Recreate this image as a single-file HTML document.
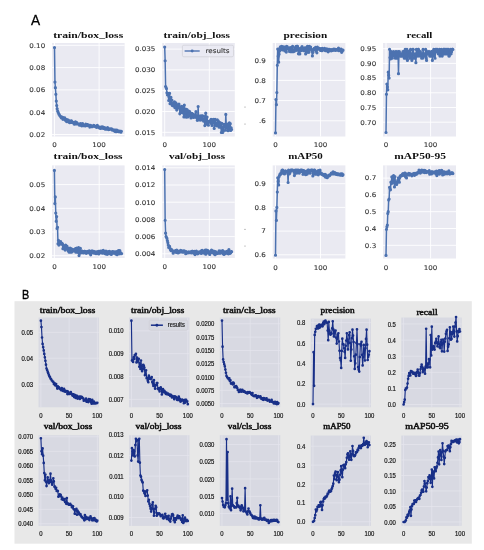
<!DOCTYPE html>
<html lang="en"><head><meta charset="utf-8"><title>Training results</title>
<style>
html,body{margin:0;padding:0;background:#fff;}
body{width:484px;height:550px;overflow:hidden;}
svg{display:block;}
text{font-kerning:normal;}
</style></head><body>
<svg width="484" height="550" viewBox="0 0 484 550">
<rect x="0" y="0" width="484" height="550" fill="#ffffff"/>
<rect x="14.5" y="301.2" width="457.3" height="242.5" fill="#e8e8e8"/>
<text transform="translate(31 25.1) scale(0.9 1)" font-family="'Liberation Sans',sans-serif" font-size="15.2" fill="#000" stroke="#000" stroke-width="0.3">A</text>
<text transform="translate(21.9 299.3) scale(0.8 1)" font-family="'Liberation Sans',sans-serif" font-size="13.6" fill="#000" stroke="#000" stroke-width="0.35">B</text>

<g>
<rect x="52" y="43" width="72.6" height="93.5" fill="#eaeaf2"/>
<path d="M54.5 43V136.5M99.1 43V136.5M52 45.3H124.6M52 67.6H124.6M52 89.9H124.6M52 112.2H124.6M52 134.5H124.6" stroke="#ffffff" stroke-width="0.9" fill="none"/>
<polyline points="54.5,47.53 54.95,82.09 55.39,87.67 55.84,94.36 56.28,101.05 56.73,105.51 57.18,108.86 57.62,111.08 58.07,112.2 58.51,113.31 58.96,114.13 59.41,114.95 59.85,115.77 60.3,116.31 60.74,116.66 61.19,117.83 61.64,116.85 62.08,117.5 62.53,117.76 62.97,119.33 63.42,117.56 63.87,118.76 64.31,119.31 64.76,117.89 65.2,119.47 65.65,120.6 66.1,120.1 66.54,121.55 66.99,119.51 67.43,120.69 67.88,121.1 68.33,120.08 68.77,122.09 69.22,120.82 69.66,122.75 70.11,122.01 70.56,122.52 71,120.89 71.45,120.83 71.89,122.38 72.34,121.75 72.79,122.58 73.23,122.23 73.68,123.26 74.12,124.05 74.57,124.26 75.02,122.95 75.46,121.85 75.91,123.32 76.35,124 76.8,122.52 77.25,123.71 77.69,123.87 78.14,123.84 78.58,124.17 79.03,124.36 79.48,125.18 79.92,123.96 80.37,124.43 80.81,123.64 81.26,124.76 81.71,125.86 82.15,124.72 82.6,123.59 83.04,125.05 83.49,125.46 83.94,125.74 84.38,125.71 84.83,125.28 85.27,125.94 85.72,124.22 86.17,125.48 86.61,125.29 87.06,124.48 87.5,124.5 87.95,125.72 88.4,125.42 88.84,125.22 89.29,125.91 89.73,127.04 90.18,125.48 90.63,125.38 91.07,125.77 91.52,126.73 91.96,126.31 92.41,126.64 92.86,126.52 93.3,125.52 93.75,125.43 94.19,126.07 94.64,126.22 95.09,126.2 95.53,126.73 95.98,126.83 96.42,127.3 96.87,126.96 97.32,125.47 97.76,126.47 98.21,127.35 98.65,127.5 99.1,127.83 99.55,127.09 99.99,127.16 100.44,128.47 100.88,127.27 101.33,128.06 101.78,126.81 102.22,127.74 102.67,126.78 103.11,128.32 103.56,128.29 104.01,127.98 104.45,127.56 104.9,127.98 105.34,129.26 105.79,128.4 106.24,128.59 106.68,128.98 107.13,129.21 107.57,127.69 108.02,129.21 108.47,129.6 108.91,128.69 109.36,129.11 109.8,129.34 110.25,128.85 110.7,129.12 111.14,129.28 111.59,128.95 112.03,129.48 112.48,130.16 112.93,130.07 113.37,130.25 113.82,129.84 114.26,130.77 114.71,131.36 115.16,130.15 115.6,131.17 116.05,131.66 116.49,130.18 116.94,130.98 117.39,130.25 117.83,131.02 118.28,131.49 118.72,131.64 119.17,131.23 119.62,131.15 120.06,131.59 120.51,131.3 120.95,132.22 121.4,131.26" fill="none" stroke="#4c72b0" stroke-width="1.5" stroke-linejoin="round" stroke-linecap="round"/>
<path d="M54.5 47.53h0M54.95 82.09h0M55.39 87.67h0M55.84 94.36h0M56.28 101.05h0M56.73 105.51h0M57.18 108.86h0M57.62 111.08h0M58.07 112.2h0M58.51 113.31h0M58.96 114.13h0M59.41 114.95h0M59.85 115.77h0M60.3 116.31h0M60.74 116.66h0M61.19 117.83h0M61.64 116.85h0M62.08 117.5h0M62.53 117.76h0M62.97 119.33h0M63.42 117.56h0M63.87 118.76h0M64.31 119.31h0M64.76 117.89h0M65.2 119.47h0M65.65 120.6h0M66.1 120.1h0M66.54 121.55h0M66.99 119.51h0M67.43 120.69h0M67.88 121.1h0M68.33 120.08h0M68.77 122.09h0M69.22 120.82h0M69.66 122.75h0M70.11 122.01h0M70.56 122.52h0M71 120.89h0M71.45 120.83h0M71.89 122.38h0M72.34 121.75h0M72.79 122.58h0M73.23 122.23h0M73.68 123.26h0M74.12 124.05h0M74.57 124.26h0M75.02 122.95h0M75.46 121.85h0M75.91 123.32h0M76.35 124h0M76.8 122.52h0M77.25 123.71h0M77.69 123.87h0M78.14 123.84h0M78.58 124.17h0M79.03 124.36h0M79.48 125.18h0M79.92 123.96h0M80.37 124.43h0M80.81 123.64h0M81.26 124.76h0M81.71 125.86h0M82.15 124.72h0M82.6 123.59h0M83.04 125.05h0M83.49 125.46h0M83.94 125.74h0M84.38 125.71h0M84.83 125.28h0M85.27 125.94h0M85.72 124.22h0M86.17 125.48h0M86.61 125.29h0M87.06 124.48h0M87.5 124.5h0M87.95 125.72h0M88.4 125.42h0M88.84 125.22h0M89.29 125.91h0M89.73 127.04h0M90.18 125.48h0M90.63 125.38h0M91.07 125.77h0M91.52 126.73h0M91.96 126.31h0M92.41 126.64h0M92.86 126.52h0M93.3 125.52h0M93.75 125.43h0M94.19 126.07h0M94.64 126.22h0M95.09 126.2h0M95.53 126.73h0M95.98 126.83h0M96.42 127.3h0M96.87 126.96h0M97.32 125.47h0M97.76 126.47h0M98.21 127.35h0M98.65 127.5h0M99.1 127.83h0M99.55 127.09h0M99.99 127.16h0M100.44 128.47h0M100.88 127.27h0M101.33 128.06h0M101.78 126.81h0M102.22 127.74h0M102.67 126.78h0M103.11 128.32h0M103.56 128.29h0M104.01 127.98h0M104.45 127.56h0M104.9 127.98h0M105.34 129.26h0M105.79 128.4h0M106.24 128.59h0M106.68 128.98h0M107.13 129.21h0M107.57 127.69h0M108.02 129.21h0M108.47 129.6h0M108.91 128.69h0M109.36 129.11h0M109.8 129.34h0M110.25 128.85h0M110.7 129.12h0M111.14 129.28h0M111.59 128.95h0M112.03 129.48h0M112.48 130.16h0M112.93 130.07h0M113.37 130.25h0M113.82 129.84h0M114.26 130.77h0M114.71 131.36h0M115.16 130.15h0M115.6 131.17h0M116.05 131.66h0M116.49 130.18h0M116.94 130.98h0M117.39 130.25h0M117.83 131.02h0M118.28 131.49h0M118.72 131.64h0M119.17 131.23h0M119.62 131.15h0M120.06 131.59h0M120.51 131.3h0M120.95 132.22h0M121.4 131.26h0" stroke="#4c72b0" stroke-width="3.2" stroke-linecap="round" fill="none"/>
<g font-family='"DejaVu Sans","Liberation Sans",sans-serif' font-size="6.5" fill="#333333" stroke="#333333" stroke-width="0.1">
<text transform="translate(54.5 147.3) scale(1.1 1)" text-anchor="middle">0</text>
<text transform="translate(99.1 147.3) scale(1.1 1)" text-anchor="middle">100</text>
<text transform="translate(45.2 47.64) scale(1.1 1)" text-anchor="end">0.10</text>
<text transform="translate(45.2 69.94) scale(1.1 1)" text-anchor="end">0.08</text>
<text transform="translate(45.2 92.24) scale(1.1 1)" text-anchor="end">0.06</text>
<text transform="translate(45.2 114.54) scale(1.1 1)" text-anchor="end">0.04</text>
<text transform="translate(45.2 136.84) scale(1.1 1)" text-anchor="end">0.02</text>
</g>
<text x="88.2" y="38" text-anchor="middle" font-family='"Liberation Serif","DejaVu Serif",serif' font-weight="bold" stroke="#111" stroke-width="0" font-size="7.7" fill="#111" textLength="70" lengthAdjust="spacingAndGlyphs">train/box_loss</text>
</g>
<g>
<rect x="162.2" y="43" width="72.6" height="93.5" fill="#eaeaf2"/>
<path d="M164.7 43V136.5M209.3 43V136.5M162.2 49.1H234.8M162.2 69.9H234.8M162.2 90.7H234.8M162.2 111.5H234.8M162.2 132.3H234.8" stroke="#ffffff" stroke-width="0.9" fill="none"/>
<polyline points="164.7,47.02 165.15,60.75 165.59,86.54 166.04,87.58 166.48,88.62 166.93,92.78 167.38,94.86 167.82,93.43 168.27,94.5 168.71,100.48 169.16,96.99 169.61,93.35 170.05,103.71 170.5,98.55 170.94,97.28 171.39,103.13 171.84,99.98 172.28,105.38 172.73,105.21 173.17,105.81 173.62,103.45 174.07,104.59 174.51,101.86 174.96,107.69 175.4,105.64 175.85,102.77 176.3,104.25 176.74,110.05 177.19,104.57 177.63,108.21 178.08,106.01 178.53,106.57 178.97,104.21 179.42,107.73 179.86,113.78 180.31,112.68 180.76,106.87 181.2,110.07 181.65,106.31 182.09,109.14 182.54,112.43 182.99,107.33 183.43,113.06 183.88,116.92 184.32,105.16 184.77,116.96 185.22,109.77 185.66,109.12 186.11,111.65 186.55,117.21 187,109.58 187.45,116.97 187.89,116.91 188.34,114.28 188.78,111.16 189.23,112.81 189.68,111.55 190.12,115.43 190.57,114.87 191.01,117.91 191.46,115.75 191.91,113.29 192.35,116.08 192.8,114.01 193.24,117.25 193.69,117.49 194.14,115.84 194.58,116.71 195.03,114.6 195.47,115.99 195.92,111.63 196.37,117.53 196.81,117.74 197.26,120.29 197.7,117.38 198.15,106.51 198.6,119.98 199.04,118.16 199.49,116.11 199.93,118.75 200.38,120.08 200.83,115.88 201.27,118.58 201.72,117.85 202.16,115.74 202.61,115.96 203.06,120.46 203.5,121.12 203.95,118.91 204.39,120.27 204.84,125.56 205.29,116.46 205.73,113.16 206.18,118.32 206.62,124.03 207.07,117 207.52,122.61 207.96,121.36 208.41,125.27 208.85,121.82 209.3,122.15 209.75,122.19 210.19,120.54 210.64,121.81 211.08,119.31 211.53,123.68 211.98,125.38 212.42,122.7 212.87,120.99 213.31,119.36 213.76,120.78 214.21,128.46 214.65,122.38 215.1,119.39 215.54,123.63 215.99,125.48 216.44,123.25 216.88,125.78 217.33,119.82 217.77,124.68 218.22,120.76 218.67,123.5 219.11,127.2 219.56,123.47 220,122.64 220.45,127.16 220.9,126.88 221.34,132.5 221.79,123.29 222.23,127.77 222.68,132.38 223.13,131.49 223.57,127.13 224.02,124.4 224.46,127.01 224.91,125.52 225.36,130.24 225.8,114.41 226.25,124.73 226.69,126.01 227.14,127.67 227.59,123.99 228.03,130.63 228.48,129.23 228.92,125.15 229.37,122.93 229.82,128.39 230.26,123.67 230.71,130.45 231.15,127.87 231.6,129.48" fill="none" stroke="#4c72b0" stroke-width="1.5" stroke-linejoin="round" stroke-linecap="round"/>
<path d="M164.7 47.02h0M165.15 60.75h0M165.59 86.54h0M166.04 87.58h0M166.48 88.62h0M166.93 92.78h0M167.38 94.86h0M167.82 93.43h0M168.27 94.5h0M168.71 100.48h0M169.16 96.99h0M169.61 93.35h0M170.05 103.71h0M170.5 98.55h0M170.94 97.28h0M171.39 103.13h0M171.84 99.98h0M172.28 105.38h0M172.73 105.21h0M173.17 105.81h0M173.62 103.45h0M174.07 104.59h0M174.51 101.86h0M174.96 107.69h0M175.4 105.64h0M175.85 102.77h0M176.3 104.25h0M176.74 110.05h0M177.19 104.57h0M177.63 108.21h0M178.08 106.01h0M178.53 106.57h0M178.97 104.21h0M179.42 107.73h0M179.86 113.78h0M180.31 112.68h0M180.76 106.87h0M181.2 110.07h0M181.65 106.31h0M182.09 109.14h0M182.54 112.43h0M182.99 107.33h0M183.43 113.06h0M183.88 116.92h0M184.32 105.16h0M184.77 116.96h0M185.22 109.77h0M185.66 109.12h0M186.11 111.65h0M186.55 117.21h0M187 109.58h0M187.45 116.97h0M187.89 116.91h0M188.34 114.28h0M188.78 111.16h0M189.23 112.81h0M189.68 111.55h0M190.12 115.43h0M190.57 114.87h0M191.01 117.91h0M191.46 115.75h0M191.91 113.29h0M192.35 116.08h0M192.8 114.01h0M193.24 117.25h0M193.69 117.49h0M194.14 115.84h0M194.58 116.71h0M195.03 114.6h0M195.47 115.99h0M195.92 111.63h0M196.37 117.53h0M196.81 117.74h0M197.26 120.29h0M197.7 117.38h0M198.15 106.51h0M198.6 119.98h0M199.04 118.16h0M199.49 116.11h0M199.93 118.75h0M200.38 120.08h0M200.83 115.88h0M201.27 118.58h0M201.72 117.85h0M202.16 115.74h0M202.61 115.96h0M203.06 120.46h0M203.5 121.12h0M203.95 118.91h0M204.39 120.27h0M204.84 125.56h0M205.29 116.46h0M205.73 113.16h0M206.18 118.32h0M206.62 124.03h0M207.07 117h0M207.52 122.61h0M207.96 121.36h0M208.41 125.27h0M208.85 121.82h0M209.3 122.15h0M209.75 122.19h0M210.19 120.54h0M210.64 121.81h0M211.08 119.31h0M211.53 123.68h0M211.98 125.38h0M212.42 122.7h0M212.87 120.99h0M213.31 119.36h0M213.76 120.78h0M214.21 128.46h0M214.65 122.38h0M215.1 119.39h0M215.54 123.63h0M215.99 125.48h0M216.44 123.25h0M216.88 125.78h0M217.33 119.82h0M217.77 124.68h0M218.22 120.76h0M218.67 123.5h0M219.11 127.2h0M219.56 123.47h0M220 122.64h0M220.45 127.16h0M220.9 126.88h0M221.34 132.5h0M221.79 123.29h0M222.23 127.77h0M222.68 132.38h0M223.13 131.49h0M223.57 127.13h0M224.02 124.4h0M224.46 127.01h0M224.91 125.52h0M225.36 130.24h0M225.8 114.41h0M226.25 124.73h0M226.69 126.01h0M227.14 127.67h0M227.59 123.99h0M228.03 130.63h0M228.48 129.23h0M228.92 125.15h0M229.37 122.93h0M229.82 128.39h0M230.26 123.67h0M230.71 130.45h0M231.15 127.87h0M231.6 129.48h0" stroke="#4c72b0" stroke-width="3.2" stroke-linecap="round" fill="none"/>
<g font-family='"DejaVu Sans","Liberation Sans",sans-serif' font-size="6.5" fill="#333333" stroke="#333333" stroke-width="0.1">
<text transform="translate(164.7 147.3) scale(1.1 1)" text-anchor="middle">0</text>
<text transform="translate(209.3 147.3) scale(1.1 1)" text-anchor="middle">100</text>
<text transform="translate(155.4 51.44) scale(1.1 1)" text-anchor="end">0.035</text>
<text transform="translate(155.4 72.24) scale(1.1 1)" text-anchor="end">0.030</text>
<text transform="translate(155.4 93.04) scale(1.1 1)" text-anchor="end">0.025</text>
<text transform="translate(155.4 113.84) scale(1.1 1)" text-anchor="end">0.020</text>
<text transform="translate(155.4 134.64) scale(1.1 1)" text-anchor="end">0.015</text>
</g>
<text x="196.75" y="38" text-anchor="middle" font-family='"Liberation Serif","DejaVu Serif",serif' font-weight="bold" stroke="#111" stroke-width="0" font-size="7.7" fill="#111" textLength="66.5" lengthAdjust="spacingAndGlyphs">train/obj_loss</text>
<rect x="182.4" y="45.2" width="51.1" height="11.6" rx="1.5" fill="#eaeaf2" fill-opacity="0.8" stroke="#cfcfd6" stroke-width="0.7"/>
<path d="M184.6 51H199.7" stroke="#4c72b0" stroke-width="1.4"/>
<circle cx="192.15" cy="51" r="1.45" fill="#4c72b0"/>
<text transform="translate(205.5 53.15) scale(1.1 1)" font-family='"DejaVu Sans","Liberation Sans",sans-serif' font-size="6.5" fill="#333333" stroke="#333333" stroke-width="0.1">results</text>
</g>
<g>
<rect x="272.7" y="43" width="72.7" height="93.5" fill="#eaeaf2"/>
<path d="M275.5 43V136.5M320.5 43V136.5M272.7 60.2H345.4M272.7 80.4H345.4M272.7 100.6H345.4M272.7 120.8H345.4" stroke="#ffffff" stroke-width="0.9" fill="none"/>
<polyline points="275.5,132.92 275.95,99.59 276.4,104.64 276.85,92.52 277.3,65.25 277.75,49.09 278.2,56.16 278.65,62.22 279.1,54.14 279.55,51.11 280,48.08 280.45,46.79 280.9,49.6 281.35,49.24 281.8,46.26 282.25,49.64 282.7,49.99 283.15,47.63 283.6,46.9 284.05,47.84 284.5,50.37 284.95,50.94 285.4,47.05 285.85,48.51 286.3,52.05 286.75,46.26 287.2,46.71 287.65,48.98 288.1,49.04 288.55,47.96 289,50.01 289.45,51.49 289.9,47.79 290.35,51.72 290.8,47.67 291.25,51.75 291.7,48.79 292.15,48.88 292.6,46.26 293.05,50.97 293.5,51.76 293.95,50.07 294.4,51.14 294.85,49.97 295.3,47.74 295.75,46.97 296.2,46.26 296.65,50.35 297.1,46.26 297.55,46.26 298,49.21 298.45,53.86 298.9,48.96 299.35,48.63 299.8,53.92 300.25,48.66 300.7,49.28 301.15,50.59 301.6,47.47 302.05,46.64 302.5,49.97 302.95,48.39 303.4,50.36 303.85,50.67 304.3,48.75 304.75,47.78 305.2,50.2 305.65,53.88 306.1,47.67 306.55,52.53 307,48.72 307.45,46.26 307.9,49.05 308.35,51.66 308.8,52.28 309.25,46.44 309.7,49.09 310.15,47.86 310.6,47.01 311.05,49.19 311.5,49.78 311.95,51.21 312.4,55.96 312.85,52.49 313.3,49.29 313.75,49.53 314.2,48.25 314.65,49.44 315.1,48.82 315.55,47.43 316,51.16 316.45,49.84 316.9,52.78 317.35,47.06 317.8,49.15 318.25,48.85 318.7,48.01 319.15,48.39 319.6,49.32 320.05,48.65 320.5,50.45 320.95,48.96 321.4,49.21 321.85,50.65 322.3,48.28 322.75,49.94 323.2,48.84 323.65,49.74 324.1,48.62 324.55,48.38 325,50.12 325.45,50.71 325.9,49.59 326.35,48.82 326.8,49.82 327.25,50.03 327.7,49.16 328.15,51.8 328.6,50.12 329.05,50.72 329.5,49.38 329.95,50.23 330.4,50.55 330.85,49.95 331.3,50.87 331.75,49.71 332.2,50.26 332.65,50.03 333.1,50.32 333.55,49.02 334,49.86 334.45,49.37 334.9,49.42 335.35,50.48 335.8,49.38 336.25,49.58 336.7,49.62 337.15,50.21 337.6,50.25 338.05,49.29 338.5,48.18 338.95,50.63 339.4,49.54 339.85,50.28 340.3,49.37 340.75,49.67 341.2,49.18 341.65,52.31 342.1,50.55 342.55,50.88 343,50.19" fill="none" stroke="#4c72b0" stroke-width="1.5" stroke-linejoin="round" stroke-linecap="round"/>
<path d="M275.5 132.92h0M275.95 99.59h0M276.4 104.64h0M276.85 92.52h0M277.3 65.25h0M277.75 49.09h0M278.2 56.16h0M278.65 62.22h0M279.1 54.14h0M279.55 51.11h0M280 48.08h0M280.45 46.79h0M280.9 49.6h0M281.35 49.24h0M281.8 46.26h0M282.25 49.64h0M282.7 49.99h0M283.15 47.63h0M283.6 46.9h0M284.05 47.84h0M284.5 50.37h0M284.95 50.94h0M285.4 47.05h0M285.85 48.51h0M286.3 52.05h0M286.75 46.26h0M287.2 46.71h0M287.65 48.98h0M288.1 49.04h0M288.55 47.96h0M289 50.01h0M289.45 51.49h0M289.9 47.79h0M290.35 51.72h0M290.8 47.67h0M291.25 51.75h0M291.7 48.79h0M292.15 48.88h0M292.6 46.26h0M293.05 50.97h0M293.5 51.76h0M293.95 50.07h0M294.4 51.14h0M294.85 49.97h0M295.3 47.74h0M295.75 46.97h0M296.2 46.26h0M296.65 50.35h0M297.1 46.26h0M297.55 46.26h0M298 49.21h0M298.45 53.86h0M298.9 48.96h0M299.35 48.63h0M299.8 53.92h0M300.25 48.66h0M300.7 49.28h0M301.15 50.59h0M301.6 47.47h0M302.05 46.64h0M302.5 49.97h0M302.95 48.39h0M303.4 50.36h0M303.85 50.67h0M304.3 48.75h0M304.75 47.78h0M305.2 50.2h0M305.65 53.88h0M306.1 47.67h0M306.55 52.53h0M307 48.72h0M307.45 46.26h0M307.9 49.05h0M308.35 51.66h0M308.8 52.28h0M309.25 46.44h0M309.7 49.09h0M310.15 47.86h0M310.6 47.01h0M311.05 49.19h0M311.5 49.78h0M311.95 51.21h0M312.4 55.96h0M312.85 52.49h0M313.3 49.29h0M313.75 49.53h0M314.2 48.25h0M314.65 49.44h0M315.1 48.82h0M315.55 47.43h0M316 51.16h0M316.45 49.84h0M316.9 52.78h0M317.35 47.06h0M317.8 49.15h0M318.25 48.85h0M318.7 48.01h0M319.15 48.39h0M319.6 49.32h0M320.05 48.65h0M320.5 50.45h0M320.95 48.96h0M321.4 49.21h0M321.85 50.65h0M322.3 48.28h0M322.75 49.94h0M323.2 48.84h0M323.65 49.74h0M324.1 48.62h0M324.55 48.38h0M325 50.12h0M325.45 50.71h0M325.9 49.59h0M326.35 48.82h0M326.8 49.82h0M327.25 50.03h0M327.7 49.16h0M328.15 51.8h0M328.6 50.12h0M329.05 50.72h0M329.5 49.38h0M329.95 50.23h0M330.4 50.55h0M330.85 49.95h0M331.3 50.87h0M331.75 49.71h0M332.2 50.26h0M332.65 50.03h0M333.1 50.32h0M333.55 49.02h0M334 49.86h0M334.45 49.37h0M334.9 49.42h0M335.35 50.48h0M335.8 49.38h0M336.25 49.58h0M336.7 49.62h0M337.15 50.21h0M337.6 50.25h0M338.05 49.29h0M338.5 48.18h0M338.95 50.63h0M339.4 49.54h0M339.85 50.28h0M340.3 49.37h0M340.75 49.67h0M341.2 49.18h0M341.65 52.31h0M342.1 50.55h0M342.55 50.88h0M343 50.19h0" stroke="#4c72b0" stroke-width="3.2" stroke-linecap="round" fill="none"/>
<g font-family='"DejaVu Sans","Liberation Sans",sans-serif' font-size="6.5" fill="#333333" stroke="#333333" stroke-width="0.1">
<text transform="translate(275.5 147.3) scale(1.1 1)" text-anchor="middle">0</text>
<text transform="translate(320.5 147.3) scale(1.1 1)" text-anchor="middle">100</text>
<text transform="translate(265.9 62.54) scale(1.1 1)" text-anchor="end">0.9</text>
<text transform="translate(265.9 82.74) scale(1.1 1)" text-anchor="end">0.8</text>
<text transform="translate(265.9 102.94) scale(1.1 1)" text-anchor="end">0.7</text>
<text transform="translate(265.9 123.14) scale(1.1 1)" text-anchor="end">.6</text>
</g>
<text x="305.4" y="38" text-anchor="middle" font-family='"Liberation Serif","DejaVu Serif",serif' font-weight="bold" stroke="#111" stroke-width="0" font-size="7.7" fill="#111" textLength="43.7" lengthAdjust="spacingAndGlyphs">precision</text>
</g>
<g>
<rect x="383" y="43" width="73" height="93.5" fill="#eaeaf2"/>
<path d="M386 43V136.5M430.6 43V136.5M383 48.7H456M383 63.4H456M383 78.1H456M383 92.8H456M383 107.5H456M383 122.2H456" stroke="#ffffff" stroke-width="0.9" fill="none"/>
<polyline points="386,132.49 386.45,94.27 386.89,83.98 387.34,86.92 387.78,89.86 388.23,72.22 388.68,75.16 389.12,78.1 389.57,49.29 390.01,57.52 390.46,58.99 390.91,56.05 391.35,51.64 391.8,53.84 392.24,58.26 392.69,53.84 393.14,56.05 393.58,51.64 394.03,53.84 394.47,56.05 394.92,53.84 395.37,58.26 395.81,51.64 396.26,51.64 396.7,58.26 397.15,53.84 397.6,58.26 398.04,51.64 398.49,73.69 398.93,53.84 399.38,51.64 399.83,56.05 400.27,56.05 400.72,56.05 401.16,53.84 401.61,56.05 402.06,53.84 402.5,56.05 402.95,51.64 403.39,51.64 403.84,56.05 404.29,58.26 404.73,51.64 405.18,49.44 405.62,53.84 406.07,58.26 406.52,53.84 406.96,49.44 407.41,60.46 407.85,51.64 408.3,56.05 408.75,56.05 409.19,51.64 409.64,58.26 410.08,53.84 410.53,49.44 410.98,53.84 411.42,56.05 411.87,60.46 412.31,58.26 412.76,49.44 413.21,49.44 413.65,53.84 414.1,58.26 414.54,58.26 414.99,58.26 415.44,53.84 415.88,62.67 416.33,49.44 416.77,56.05 417.22,56.05 417.67,51.64 418.11,49.44 418.56,49.44 419,56.05 419.45,53.84 419.9,53.84 420.34,51.64 420.79,53.84 421.23,56.05 421.68,58.26 422.13,53.84 422.57,58.26 423.02,49.44 423.46,53.84 423.91,56.05 424.36,53.84 424.8,56.05 425.25,53.84 425.69,49.44 426.14,58.26 426.59,60.46 427.03,51.64 427.48,53.84 427.92,53.84 428.37,51.64 428.82,53.84 429.26,51.64 429.71,56.05 430.15,53.84 430.6,56.05 431.05,56.05 431.49,51.64 431.94,51.64 432.38,60.46 432.83,56.05 433.28,51.64 433.72,49.44 434.17,56.05 434.61,53.84 435.06,58.26 435.51,49.44 435.95,51.64 436.4,49.44 436.84,51.64 437.29,49.44 437.74,51.64 438.18,53.84 438.63,51.64 439.07,51.64 439.52,49.44 439.97,56.05 440.41,53.84 440.86,51.64 441.3,49.44 441.75,51.64 442.2,56.05 442.64,53.84 443.09,53.84 443.53,49.44 443.98,49.44 444.43,49.44 444.87,51.64 445.32,53.84 445.76,49.44 446.21,49.44 446.66,51.64 447.1,53.84 447.55,49.44 447.99,53.84 448.44,49.44 448.89,56.05 449.33,56.05 449.78,51.64 450.22,51.64 450.67,49.44 451.12,53.84 451.56,51.64 452.01,49.44 452.45,49.44 452.9,49.44" fill="none" stroke="#4c72b0" stroke-width="1.5" stroke-linejoin="round" stroke-linecap="round"/>
<path d="M386 132.49h0M386.45 94.27h0M386.89 83.98h0M387.34 86.92h0M387.78 89.86h0M388.23 72.22h0M388.68 75.16h0M389.12 78.1h0M389.57 49.29h0M390.01 57.52h0M390.46 58.99h0M390.91 56.05h0M391.35 51.64h0M391.8 53.84h0M392.24 58.26h0M392.69 53.84h0M393.14 56.05h0M393.58 51.64h0M394.03 53.84h0M394.47 56.05h0M394.92 53.84h0M395.37 58.26h0M395.81 51.64h0M396.26 51.64h0M396.7 58.26h0M397.15 53.84h0M397.6 58.26h0M398.04 51.64h0M398.49 73.69h0M398.93 53.84h0M399.38 51.64h0M399.83 56.05h0M400.27 56.05h0M400.72 56.05h0M401.16 53.84h0M401.61 56.05h0M402.06 53.84h0M402.5 56.05h0M402.95 51.64h0M403.39 51.64h0M403.84 56.05h0M404.29 58.26h0M404.73 51.64h0M405.18 49.44h0M405.62 53.84h0M406.07 58.26h0M406.52 53.84h0M406.96 49.44h0M407.41 60.46h0M407.85 51.64h0M408.3 56.05h0M408.75 56.05h0M409.19 51.64h0M409.64 58.26h0M410.08 53.84h0M410.53 49.44h0M410.98 53.84h0M411.42 56.05h0M411.87 60.46h0M412.31 58.26h0M412.76 49.44h0M413.21 49.44h0M413.65 53.84h0M414.1 58.26h0M414.54 58.26h0M414.99 58.26h0M415.44 53.84h0M415.88 62.67h0M416.33 49.44h0M416.77 56.05h0M417.22 56.05h0M417.67 51.64h0M418.11 49.44h0M418.56 49.44h0M419 56.05h0M419.45 53.84h0M419.9 53.84h0M420.34 51.64h0M420.79 53.84h0M421.23 56.05h0M421.68 58.26h0M422.13 53.84h0M422.57 58.26h0M423.02 49.44h0M423.46 53.84h0M423.91 56.05h0M424.36 53.84h0M424.8 56.05h0M425.25 53.84h0M425.69 49.44h0M426.14 58.26h0M426.59 60.46h0M427.03 51.64h0M427.48 53.84h0M427.92 53.84h0M428.37 51.64h0M428.82 53.84h0M429.26 51.64h0M429.71 56.05h0M430.15 53.84h0M430.6 56.05h0M431.05 56.05h0M431.49 51.64h0M431.94 51.64h0M432.38 60.46h0M432.83 56.05h0M433.28 51.64h0M433.72 49.44h0M434.17 56.05h0M434.61 53.84h0M435.06 58.26h0M435.51 49.44h0M435.95 51.64h0M436.4 49.44h0M436.84 51.64h0M437.29 49.44h0M437.74 51.64h0M438.18 53.84h0M438.63 51.64h0M439.07 51.64h0M439.52 49.44h0M439.97 56.05h0M440.41 53.84h0M440.86 51.64h0M441.3 49.44h0M441.75 51.64h0M442.2 56.05h0M442.64 53.84h0M443.09 53.84h0M443.53 49.44h0M443.98 49.44h0M444.43 49.44h0M444.87 51.64h0M445.32 53.84h0M445.76 49.44h0M446.21 49.44h0M446.66 51.64h0M447.1 53.84h0M447.55 49.44h0M447.99 53.84h0M448.44 49.44h0M448.89 56.05h0M449.33 56.05h0M449.78 51.64h0M450.22 51.64h0M450.67 49.44h0M451.12 53.84h0M451.56 51.64h0M452.01 49.44h0M452.45 49.44h0M452.9 49.44h0" stroke="#4c72b0" stroke-width="3.2" stroke-linecap="round" fill="none"/>
<g font-family='"DejaVu Sans","Liberation Sans",sans-serif' font-size="6.5" fill="#333333" stroke="#333333" stroke-width="0.1">
<text transform="translate(386 147.3) scale(1.1 1)" text-anchor="middle">0</text>
<text transform="translate(430.6 147.3) scale(1.1 1)" text-anchor="middle">100</text>
<text transform="translate(376.2 51.04) scale(1.1 1)" text-anchor="end">0.95</text>
<text transform="translate(376.2 65.74) scale(1.1 1)" text-anchor="end">0.90</text>
<text transform="translate(376.2 80.44) scale(1.1 1)" text-anchor="end">0.85</text>
<text transform="translate(376.2 95.14) scale(1.1 1)" text-anchor="end">0.80</text>
<text transform="translate(376.2 109.84) scale(1.1 1)" text-anchor="end">0.75</text>
<text transform="translate(376.2 124.54) scale(1.1 1)" text-anchor="end">0.70</text>
</g>
<text x="419.5" y="38" text-anchor="middle" font-family='"Liberation Serif","DejaVu Serif",serif' font-weight="bold" stroke="#111" stroke-width="0" font-size="7.7" fill="#111" textLength="25.8" lengthAdjust="spacingAndGlyphs">recall</text>
</g>
<g>
<rect x="52" y="165.4" width="72.6" height="92.6" fill="#eaeaf2"/>
<path d="M54.4 165.4V258M99.2 165.4V258M52 184.6H124.6M52 208.3H124.6M52 232H124.6M52 255.7H124.6" stroke="#ffffff" stroke-width="0.9" fill="none"/>
<polyline points="54.4,170.38 54.85,203.56 55.3,196.92 55.74,213.04 56.19,221.33 56.64,216.59 57.09,228.44 57.54,227.26 57.98,243.85 58.43,240.29 58.88,245.03 59.33,242.08 59.78,242.35 60.22,242.38 60.67,241.59 61.12,243.11 61.57,244.23 62.02,243.36 62.46,243.87 62.91,248.67 63.36,245.63 63.81,245.64 64.26,248.56 64.7,246.63 65.15,250.09 65.6,245.07 66.05,248.47 66.5,248.39 66.94,246.19 67.39,248.96 67.84,247.77 68.29,251.11 68.74,250.43 69.18,252.21 69.63,250.19 70.08,248.06 70.53,249.67 70.98,248.49 71.42,252.19 71.87,252 72.32,251.29 72.77,249.4 73.22,249.89 73.66,250.67 74.11,249.54 74.56,251.09 75.01,250.92 75.46,248.49 75.9,252.15 76.35,250.77 76.8,248.14 77.25,251.03 77.7,249.9 78.14,252.42 78.59,247.58 79.04,255.58 79.49,253.49 79.94,253.36 80.38,248.32 80.83,250.74 81.28,251.68 81.73,252.67 82.18,251.14 82.62,251.4 83.07,252.19 83.52,252.97 83.97,252.62 84.42,251.4 84.86,251.33 85.31,251.58 85.76,251.81 86.21,253.37 86.66,251.67 87.1,252.72 87.55,251.73 88,251.35 88.45,252.45 88.9,252.81 89.34,250.92 89.79,251.55 90.24,252.51 90.69,254.78 91.14,252 91.58,251.38 92.03,250.94 92.48,252.67 92.93,252.66 93.38,252.49 93.82,251.3 94.27,253.23 94.72,252.25 95.17,253.05 95.62,251.94 96.06,253.69 96.51,251.88 96.96,252.73 97.41,252.5 97.86,251.81 98.3,251.25 98.75,253.97 99.2,251.43 99.65,251.86 100.1,252.67 100.54,251.07 100.99,252.22 101.44,251.18 101.89,252.97 102.34,253.24 102.78,251.26 103.23,250.37 103.68,251.83 104.13,251.59 104.58,252.89 105.02,253.7 105.47,252.66 105.92,251.03 106.37,254.22 106.82,252.93 107.26,254.28 107.71,252.37 108.16,251.65 108.61,253.66 109.06,252.87 109.5,251.23 109.95,252.58 110.4,253.68 110.85,253.75 111.3,254.42 111.74,251.78 112.19,253.23 112.64,251.53 113.09,251.71 113.54,253.16 113.98,253.04 114.43,251.81 114.88,252.41 115.33,252.3 115.78,254.12 116.22,251.71 116.67,253.4 117.12,254.72 117.57,253.16 118.02,252.18 118.46,250.6 118.91,252.94 119.36,253.86 119.81,250.59 120.26,252.45 120.7,252.86 121.15,253.63 121.6,253.57" fill="none" stroke="#4c72b0" stroke-width="1.5" stroke-linejoin="round" stroke-linecap="round"/>
<path d="M54.4 170.38h0M54.85 203.56h0M55.3 196.92h0M55.74 213.04h0M56.19 221.33h0M56.64 216.59h0M57.09 228.44h0M57.54 227.26h0M57.98 243.85h0M58.43 240.29h0M58.88 245.03h0M59.33 242.08h0M59.78 242.35h0M60.22 242.38h0M60.67 241.59h0M61.12 243.11h0M61.57 244.23h0M62.02 243.36h0M62.46 243.87h0M62.91 248.67h0M63.36 245.63h0M63.81 245.64h0M64.26 248.56h0M64.7 246.63h0M65.15 250.09h0M65.6 245.07h0M66.05 248.47h0M66.5 248.39h0M66.94 246.19h0M67.39 248.96h0M67.84 247.77h0M68.29 251.11h0M68.74 250.43h0M69.18 252.21h0M69.63 250.19h0M70.08 248.06h0M70.53 249.67h0M70.98 248.49h0M71.42 252.19h0M71.87 252h0M72.32 251.29h0M72.77 249.4h0M73.22 249.89h0M73.66 250.67h0M74.11 249.54h0M74.56 251.09h0M75.01 250.92h0M75.46 248.49h0M75.9 252.15h0M76.35 250.77h0M76.8 248.14h0M77.25 251.03h0M77.7 249.9h0M78.14 252.42h0M78.59 247.58h0M79.04 255.58h0M79.49 253.49h0M79.94 253.36h0M80.38 248.32h0M80.83 250.74h0M81.28 251.68h0M81.73 252.67h0M82.18 251.14h0M82.62 251.4h0M83.07 252.19h0M83.52 252.97h0M83.97 252.62h0M84.42 251.4h0M84.86 251.33h0M85.31 251.58h0M85.76 251.81h0M86.21 253.37h0M86.66 251.67h0M87.1 252.72h0M87.55 251.73h0M88 251.35h0M88.45 252.45h0M88.9 252.81h0M89.34 250.92h0M89.79 251.55h0M90.24 252.51h0M90.69 254.78h0M91.14 252h0M91.58 251.38h0M92.03 250.94h0M92.48 252.67h0M92.93 252.66h0M93.38 252.49h0M93.82 251.3h0M94.27 253.23h0M94.72 252.25h0M95.17 253.05h0M95.62 251.94h0M96.06 253.69h0M96.51 251.88h0M96.96 252.73h0M97.41 252.5h0M97.86 251.81h0M98.3 251.25h0M98.75 253.97h0M99.2 251.43h0M99.65 251.86h0M100.1 252.67h0M100.54 251.07h0M100.99 252.22h0M101.44 251.18h0M101.89 252.97h0M102.34 253.24h0M102.78 251.26h0M103.23 250.37h0M103.68 251.83h0M104.13 251.59h0M104.58 252.89h0M105.02 253.7h0M105.47 252.66h0M105.92 251.03h0M106.37 254.22h0M106.82 252.93h0M107.26 254.28h0M107.71 252.37h0M108.16 251.65h0M108.61 253.66h0M109.06 252.87h0M109.5 251.23h0M109.95 252.58h0M110.4 253.68h0M110.85 253.75h0M111.3 254.42h0M111.74 251.78h0M112.19 253.23h0M112.64 251.53h0M113.09 251.71h0M113.54 253.16h0M113.98 253.04h0M114.43 251.81h0M114.88 252.41h0M115.33 252.3h0M115.78 254.12h0M116.22 251.71h0M116.67 253.4h0M117.12 254.72h0M117.57 253.16h0M118.02 252.18h0M118.46 250.6h0M118.91 252.94h0M119.36 253.86h0M119.81 250.59h0M120.26 252.45h0M120.7 252.86h0M121.15 253.63h0M121.6 253.57h0" stroke="#4c72b0" stroke-width="3.2" stroke-linecap="round" fill="none"/>
<g font-family='"DejaVu Sans","Liberation Sans",sans-serif' font-size="6.5" fill="#333333" stroke="#333333" stroke-width="0.1">
<text transform="translate(54.4 269.3) scale(1.1 1)" text-anchor="middle">0</text>
<text transform="translate(99.2 269.3) scale(1.1 1)" text-anchor="middle">100</text>
<text transform="translate(45.2 186.94) scale(1.1 1)" text-anchor="end">0.05</text>
<text transform="translate(45.2 210.64) scale(1.1 1)" text-anchor="end">0.04</text>
<text transform="translate(45.2 234.34) scale(1.1 1)" text-anchor="end">0.03</text>
<text transform="translate(45.2 258.04) scale(1.1 1)" text-anchor="end">0.02</text>
</g>
<text x="88.1" y="159.4" text-anchor="middle" font-family='"Liberation Serif","DejaVu Serif",serif' font-weight="bold" stroke="#111" stroke-width="0" font-size="7.7" fill="#111" textLength="69" lengthAdjust="spacingAndGlyphs">train/box_loss</text>
</g>
<g>
<rect x="162.2" y="165.4" width="72.6" height="92.6" fill="#eaeaf2"/>
<path d="M164.7 165.4V258M209.3 165.4V258M162.2 167.8H234.8M162.2 185H234.8M162.2 202.2H234.8M162.2 219.4H234.8M162.2 236.6H234.8M162.2 253.8H234.8" stroke="#ffffff" stroke-width="0.9" fill="none"/>
<polyline points="164.7,169.52 165.15,220.26 165.59,233.16 166.04,236.6 166.48,237.46 166.93,238.32 167.38,240.61 167.82,242.61 168.27,244.93 168.71,247.47 169.16,247.04 169.61,246.33 170.05,248.53 170.5,249.84 170.94,250.6 171.39,249.29 171.84,250.32 172.28,250.65 172.73,251.03 173.17,253.21 173.62,251.21 174.07,251.73 174.51,251.99 174.96,251.56 175.4,250.7 175.85,251.59 176.3,252.51 176.74,250.17 177.19,251.88 177.63,252.12 178.08,252.97 178.53,251.25 178.97,252.48 179.42,251.93 179.86,250.89 180.31,251.4 180.76,250.34 181.2,251.18 181.65,252.02 182.09,251.98 182.54,252.22 182.99,250.97 183.43,251.71 183.88,252.24 184.32,250.88 184.77,251.76 185.22,252.43 185.66,253.64 186.11,251.5 186.55,251.77 187,252.02 187.45,252.57 187.89,253.02 188.34,252.35 188.78,251.84 189.23,252.24 189.68,252.27 190.12,252.63 190.57,251.74 191.01,251.86 191.46,252.96 191.91,251.28 192.35,251.25 192.8,251.23 193.24,252.29 193.69,252.36 194.14,253.44 194.58,251.31 195.03,254.55 195.47,252.6 195.92,252.55 196.37,251.21 196.81,252.18 197.26,253.26 197.7,253.78 198.15,253 198.6,252.07 199.04,252.13 199.49,252.42 199.93,252.97 200.38,252.44 200.83,251.1 201.27,253.45 201.72,252.18 202.16,250.42 202.61,251.61 203.06,252.74 203.5,251.5 203.95,253.08 204.39,252.24 204.84,250.51 205.29,250.14 205.73,254.17 206.18,251.48 206.62,250.09 207.07,252.88 207.52,251.99 207.96,250.6 208.41,252.84 208.85,251.79 209.3,252.36 209.75,254.45 210.19,251.92 210.64,252.51 211.08,251.27 211.53,249.98 211.98,251.56 212.42,252.74 212.87,251.83 213.31,252.11 213.76,251.19 214.21,253.95 214.65,253.65 215.1,254.64 215.54,251.68 215.99,252.38 216.44,253.08 216.88,253.18 217.33,253.01 217.77,253.41 218.22,252.74 218.67,252.94 219.11,250.84 219.56,252.03 220,253.31 220.45,253.06 220.9,251.07 221.34,251.91 221.79,252.09 222.23,251.61 222.68,250.65 223.13,253.79 223.57,253.27 224.02,254.38 224.46,251.89 224.91,252.87 225.36,253.2 225.8,253.31 226.25,251.69 226.69,252.62 227.14,253.06 227.59,251.07 228.03,253.65 228.48,253.89 228.92,249.58 229.37,252.9 229.82,253.1 230.26,253.31 230.71,252.65 231.15,251.63 231.6,251.67" fill="none" stroke="#4c72b0" stroke-width="1.5" stroke-linejoin="round" stroke-linecap="round"/>
<path d="M164.7 169.52h0M165.15 220.26h0M165.59 233.16h0M166.04 236.6h0M166.48 237.46h0M166.93 238.32h0M167.38 240.61h0M167.82 242.61h0M168.27 244.93h0M168.71 247.47h0M169.16 247.04h0M169.61 246.33h0M170.05 248.53h0M170.5 249.84h0M170.94 250.6h0M171.39 249.29h0M171.84 250.32h0M172.28 250.65h0M172.73 251.03h0M173.17 253.21h0M173.62 251.21h0M174.07 251.73h0M174.51 251.99h0M174.96 251.56h0M175.4 250.7h0M175.85 251.59h0M176.3 252.51h0M176.74 250.17h0M177.19 251.88h0M177.63 252.12h0M178.08 252.97h0M178.53 251.25h0M178.97 252.48h0M179.42 251.93h0M179.86 250.89h0M180.31 251.4h0M180.76 250.34h0M181.2 251.18h0M181.65 252.02h0M182.09 251.98h0M182.54 252.22h0M182.99 250.97h0M183.43 251.71h0M183.88 252.24h0M184.32 250.88h0M184.77 251.76h0M185.22 252.43h0M185.66 253.64h0M186.11 251.5h0M186.55 251.77h0M187 252.02h0M187.45 252.57h0M187.89 253.02h0M188.34 252.35h0M188.78 251.84h0M189.23 252.24h0M189.68 252.27h0M190.12 252.63h0M190.57 251.74h0M191.01 251.86h0M191.46 252.96h0M191.91 251.28h0M192.35 251.25h0M192.8 251.23h0M193.24 252.29h0M193.69 252.36h0M194.14 253.44h0M194.58 251.31h0M195.03 254.55h0M195.47 252.6h0M195.92 252.55h0M196.37 251.21h0M196.81 252.18h0M197.26 253.26h0M197.7 253.78h0M198.15 253h0M198.6 252.07h0M199.04 252.13h0M199.49 252.42h0M199.93 252.97h0M200.38 252.44h0M200.83 251.1h0M201.27 253.45h0M201.72 252.18h0M202.16 250.42h0M202.61 251.61h0M203.06 252.74h0M203.5 251.5h0M203.95 253.08h0M204.39 252.24h0M204.84 250.51h0M205.29 250.14h0M205.73 254.17h0M206.18 251.48h0M206.62 250.09h0M207.07 252.88h0M207.52 251.99h0M207.96 250.6h0M208.41 252.84h0M208.85 251.79h0M209.3 252.36h0M209.75 254.45h0M210.19 251.92h0M210.64 252.51h0M211.08 251.27h0M211.53 249.98h0M211.98 251.56h0M212.42 252.74h0M212.87 251.83h0M213.31 252.11h0M213.76 251.19h0M214.21 253.95h0M214.65 253.65h0M215.1 254.64h0M215.54 251.68h0M215.99 252.38h0M216.44 253.08h0M216.88 253.18h0M217.33 253.01h0M217.77 253.41h0M218.22 252.74h0M218.67 252.94h0M219.11 250.84h0M219.56 252.03h0M220 253.31h0M220.45 253.06h0M220.9 251.07h0M221.34 251.91h0M221.79 252.09h0M222.23 251.61h0M222.68 250.65h0M223.13 253.79h0M223.57 253.27h0M224.02 254.38h0M224.46 251.89h0M224.91 252.87h0M225.36 253.2h0M225.8 253.31h0M226.25 251.69h0M226.69 252.62h0M227.14 253.06h0M227.59 251.07h0M228.03 253.65h0M228.48 253.89h0M228.92 249.58h0M229.37 252.9h0M229.82 253.1h0M230.26 253.31h0M230.71 252.65h0M231.15 251.63h0M231.6 251.67h0" stroke="#4c72b0" stroke-width="3.2" stroke-linecap="round" fill="none"/>
<g font-family='"DejaVu Sans","Liberation Sans",sans-serif' font-size="6.5" fill="#333333" stroke="#333333" stroke-width="0.1">
<text transform="translate(164.7 269.3) scale(1.1 1)" text-anchor="middle">0</text>
<text transform="translate(209.3 269.3) scale(1.1 1)" text-anchor="middle">100</text>
<text transform="translate(155.4 170.14) scale(1.1 1)" text-anchor="end">0.014</text>
<text transform="translate(155.4 187.34) scale(1.1 1)" text-anchor="end">0.012</text>
<text transform="translate(155.4 204.54) scale(1.1 1)" text-anchor="end">0.010</text>
<text transform="translate(155.4 221.74) scale(1.1 1)" text-anchor="end">0.008</text>
<text transform="translate(155.4 238.94) scale(1.1 1)" text-anchor="end">0.006</text>
<text transform="translate(155.4 256.14) scale(1.1 1)" text-anchor="end">0.004</text>
</g>
<text x="197" y="159.4" text-anchor="middle" font-family='"Liberation Serif","DejaVu Serif",serif' font-weight="bold" stroke="#111" stroke-width="0" font-size="7.7" fill="#111" textLength="56.2" lengthAdjust="spacingAndGlyphs">val/obj_loss</text>
</g>
<g>
<rect x="272.7" y="165.4" width="72.7" height="93.1" fill="#eaeaf2"/>
<path d="M275.5 165.4V258.5M320.5 165.4V258.5M272.7 183.7H345.4M272.7 207.4H345.4M272.7 231.1H345.4M272.7 254.8H345.4" stroke="#ffffff" stroke-width="0.9" fill="none"/>
<polyline points="275.5,255.27 275.95,210.95 276.4,220.44 276.85,207.4 277.3,192 277.75,177.77 278.2,181.33 278.65,184.88 279.1,176.59 279.55,175.4 280,174.22 280.45,174.42 280.9,172.97 281.35,173.16 281.8,170.68 282.25,170.19 282.7,170.19 283.15,172.5 283.6,173.41 284.05,173.24 284.5,173.94 284.95,171.78 285.4,170.95 285.85,171.46 286.3,171.44 286.75,171.51 287.2,172.13 287.65,173.43 288.1,182.51 288.55,170.19 289,173.79 289.45,173.78 289.9,173.1 290.35,171.78 290.8,170.19 291.25,170.19 291.7,170.19 292.15,170.19 292.6,170.19 293.05,170.28 293.5,170.88 293.95,172.1 294.4,175.57 294.85,172.13 295.3,170.19 295.75,173 296.2,173.18 296.65,170.19 297.1,171.68 297.55,172.87 298,170.19 298.45,170.52 298.9,170.23 299.35,173.05 299.8,170.79 300.25,171.05 300.7,170.19 301.15,170.19 301.6,170.19 302.05,171.49 302.5,170.38 302.95,174.32 303.4,170.54 303.85,170.48 304.3,172.8 304.75,173.65 305.2,172.15 305.65,174.65 306.1,171.36 306.55,171.49 307,174.17 307.45,172.07 307.9,170.19 308.35,170.19 308.8,170.19 309.25,172.62 309.7,173.05 310.15,173.19 310.6,171.12 311.05,170.19 311.5,170.19 311.95,170.19 312.4,170.19 312.85,175.97 313.3,172.99 313.75,173.51 314.2,170.19 314.65,170.19 315.1,174.1 315.55,172.63 316,171.55 316.45,173.81 316.9,174.14 317.35,174.27 317.8,170.97 318.25,174.83 318.7,170.49 319.15,172.76 319.6,171.37 320.05,170.19 320.5,173.51 320.95,173.85 321.4,173.21 321.85,174.48 322.3,174.5 322.75,174.3 323.2,174.35 323.65,175.58 324.1,175.2 324.55,174.75 325,174.45 325.45,177.04 325.9,174.95 326.35,175.49 326.8,177.12 327.25,177.63 327.7,176.06 328.15,176.41 328.6,175.78 329.05,175.03 329.5,175.67 329.95,175.05 330.4,174.59 330.85,174.06 331.3,173.21 331.75,173.02 332.2,173.81 332.65,173.91 333.1,171.83 333.55,172.82 334,172.73 334.45,173.9 334.9,172.65 335.35,173.83 335.8,173.69 336.25,174.39 336.7,173.9 337.15,173.57 337.6,174.76 338.05,174.41 338.5,173.92 338.95,174.84 339.4,174.92 339.85,174.7 340.3,175.19 340.75,173.84 341.2,175.06 341.65,173.9 342.1,173.87 342.55,175.46 343,174.67" fill="none" stroke="#4c72b0" stroke-width="1.5" stroke-linejoin="round" stroke-linecap="round"/>
<path d="M275.5 255.27h0M275.95 210.95h0M276.4 220.44h0M276.85 207.4h0M277.3 192h0M277.75 177.77h0M278.2 181.33h0M278.65 184.88h0M279.1 176.59h0M279.55 175.4h0M280 174.22h0M280.45 174.42h0M280.9 172.97h0M281.35 173.16h0M281.8 170.68h0M282.25 170.19h0M282.7 170.19h0M283.15 172.5h0M283.6 173.41h0M284.05 173.24h0M284.5 173.94h0M284.95 171.78h0M285.4 170.95h0M285.85 171.46h0M286.3 171.44h0M286.75 171.51h0M287.2 172.13h0M287.65 173.43h0M288.1 182.51h0M288.55 170.19h0M289 173.79h0M289.45 173.78h0M289.9 173.1h0M290.35 171.78h0M290.8 170.19h0M291.25 170.19h0M291.7 170.19h0M292.15 170.19h0M292.6 170.19h0M293.05 170.28h0M293.5 170.88h0M293.95 172.1h0M294.4 175.57h0M294.85 172.13h0M295.3 170.19h0M295.75 173h0M296.2 173.18h0M296.65 170.19h0M297.1 171.68h0M297.55 172.87h0M298 170.19h0M298.45 170.52h0M298.9 170.23h0M299.35 173.05h0M299.8 170.79h0M300.25 171.05h0M300.7 170.19h0M301.15 170.19h0M301.6 170.19h0M302.05 171.49h0M302.5 170.38h0M302.95 174.32h0M303.4 170.54h0M303.85 170.48h0M304.3 172.8h0M304.75 173.65h0M305.2 172.15h0M305.65 174.65h0M306.1 171.36h0M306.55 171.49h0M307 174.17h0M307.45 172.07h0M307.9 170.19h0M308.35 170.19h0M308.8 170.19h0M309.25 172.62h0M309.7 173.05h0M310.15 173.19h0M310.6 171.12h0M311.05 170.19h0M311.5 170.19h0M311.95 170.19h0M312.4 170.19h0M312.85 175.97h0M313.3 172.99h0M313.75 173.51h0M314.2 170.19h0M314.65 170.19h0M315.1 174.1h0M315.55 172.63h0M316 171.55h0M316.45 173.81h0M316.9 174.14h0M317.35 174.27h0M317.8 170.97h0M318.25 174.83h0M318.7 170.49h0M319.15 172.76h0M319.6 171.37h0M320.05 170.19h0M320.5 173.51h0M320.95 173.85h0M321.4 173.21h0M321.85 174.48h0M322.3 174.5h0M322.75 174.3h0M323.2 174.35h0M323.65 175.58h0M324.1 175.2h0M324.55 174.75h0M325 174.45h0M325.45 177.04h0M325.9 174.95h0M326.35 175.49h0M326.8 177.12h0M327.25 177.63h0M327.7 176.06h0M328.15 176.41h0M328.6 175.78h0M329.05 175.03h0M329.5 175.67h0M329.95 175.05h0M330.4 174.59h0M330.85 174.06h0M331.3 173.21h0M331.75 173.02h0M332.2 173.81h0M332.65 173.91h0M333.1 171.83h0M333.55 172.82h0M334 172.73h0M334.45 173.9h0M334.9 172.65h0M335.35 173.83h0M335.8 173.69h0M336.25 174.39h0M336.7 173.9h0M337.15 173.57h0M337.6 174.76h0M338.05 174.41h0M338.5 173.92h0M338.95 174.84h0M339.4 174.92h0M339.85 174.7h0M340.3 175.19h0M340.75 173.84h0M341.2 175.06h0M341.65 173.9h0M342.1 173.87h0M342.55 175.46h0M343 174.67h0" stroke="#4c72b0" stroke-width="3.2" stroke-linecap="round" fill="none"/>
<g font-family='"DejaVu Sans","Liberation Sans",sans-serif' font-size="6.5" fill="#333333" stroke="#333333" stroke-width="0.1">
<text transform="translate(275.5 269.8) scale(1.1 1)" text-anchor="middle">0</text>
<text transform="translate(320.5 269.8) scale(1.1 1)" text-anchor="middle">100</text>
<text transform="translate(265.9 186.04) scale(1.1 1)" text-anchor="end">0.9</text>
<text transform="translate(265.9 209.74) scale(1.1 1)" text-anchor="end">0.8</text>
<text transform="translate(265.9 233.44) scale(1.1 1)" text-anchor="end">7</text>
<text transform="translate(265.9 257.14) scale(1.1 1)" text-anchor="end">0.6</text>
</g>
<text x="305.5" y="159.4" text-anchor="middle" font-family='"Liberation Serif","DejaVu Serif",serif' font-weight="bold" stroke="#111" stroke-width="0" font-size="7.7" fill="#111" textLength="34.7" lengthAdjust="spacingAndGlyphs">mAP50</text>
</g>
<g>
<rect x="383" y="165.4" width="73" height="93.1" fill="#eaeaf2"/>
<path d="M386 165.4V258.5M430.6 165.4V258.5M383 178.1H456M383 194.9H456M383 211.7H456M383 228.5H456M383 245.3H456" stroke="#ffffff" stroke-width="0.9" fill="none"/>
<polyline points="386,255.38 386.45,229.34 386.89,226.82 387.34,225.14 387.78,213.38 388.23,211.7 388.68,199.94 389.12,199.1 389.57,187.34 390.01,188.6 390.46,189.86 390.91,182.22 391.35,183.7 391.8,176.89 392.24,182.32 392.69,182.56 393.14,179.46 393.58,175.52 394.03,179.17 394.47,187.01 394.92,176.65 395.37,184.17 395.81,181.88 396.26,182.33 396.7,184.43 397.15,182.3 397.6,181.24 398.04,179.82 398.49,177.77 398.93,178.55 399.38,182.23 399.83,177.62 400.27,175.78 400.72,175.55 401.16,176.12 401.61,175.38 402.06,174.85 402.5,174.12 402.95,173.53 403.39,175.31 403.84,175.01 404.29,173.26 404.73,173.17 405.18,173.19 405.62,177.1 406.07,174.96 406.52,178.02 406.96,174 407.41,174.68 407.85,174.69 408.3,174.88 408.75,173.43 409.19,175.04 409.64,173.7 410.08,174.18 410.53,174.38 410.98,174.27 411.42,174.63 411.87,175.84 412.31,174.02 412.76,174.02 413.21,174.72 413.65,173.67 414.1,173.33 414.54,175.36 414.99,174.04 415.44,174.18 415.88,174.48 416.33,173.07 416.77,174.08 417.22,173.5 417.67,172.64 418.11,172.37 418.56,172.23 419,170.14 419.45,172.73 419.9,171.8 420.34,173.1 420.79,171.23 421.23,170.39 421.68,170.16 422.13,172.06 422.57,171.75 423.02,170.23 423.46,171.64 423.91,170.62 424.36,172.61 424.8,170.28 425.25,170.68 425.69,171.29 426.14,172.6 426.59,172 427.03,171.73 427.48,171.66 427.92,172.07 428.37,172.23 428.82,171.86 429.26,170.69 429.71,174.16 430.15,173.56 430.6,173.78 431.05,172.93 431.49,174.01 431.94,171.71 432.38,172.19 432.83,172.56 433.28,173.01 433.72,172.18 434.17,172.17 434.61,172.04 435.06,173.12 435.51,171.75 435.95,173.9 436.4,171.18 436.84,175.56 437.29,173.07 437.74,173.7 438.18,171.71 438.63,174.02 439.07,170.7 439.52,174.11 439.97,170.53 440.41,172.14 440.86,172.58 441.3,172.18 441.75,170.43 442.2,171.76 442.64,174.92 443.09,171.49 443.53,172.47 443.98,174.35 444.43,171.97 444.87,173.98 445.32,172.59 445.76,172.56 446.21,173.46 446.66,172.17 447.1,173.87 447.55,172.67 447.99,173.43 448.44,173.08 448.89,170.97 449.33,172.81 449.78,174.04 450.22,173.08 450.67,173.75 451.12,172.97 451.56,172.85 452.01,172.94 452.45,172.96 452.9,173.61" fill="none" stroke="#4c72b0" stroke-width="1.5" stroke-linejoin="round" stroke-linecap="round"/>
<path d="M386 255.38h0M386.45 229.34h0M386.89 226.82h0M387.34 225.14h0M387.78 213.38h0M388.23 211.7h0M388.68 199.94h0M389.12 199.1h0M389.57 187.34h0M390.01 188.6h0M390.46 189.86h0M390.91 182.22h0M391.35 183.7h0M391.8 176.89h0M392.24 182.32h0M392.69 182.56h0M393.14 179.46h0M393.58 175.52h0M394.03 179.17h0M394.47 187.01h0M394.92 176.65h0M395.37 184.17h0M395.81 181.88h0M396.26 182.33h0M396.7 184.43h0M397.15 182.3h0M397.6 181.24h0M398.04 179.82h0M398.49 177.77h0M398.93 178.55h0M399.38 182.23h0M399.83 177.62h0M400.27 175.78h0M400.72 175.55h0M401.16 176.12h0M401.61 175.38h0M402.06 174.85h0M402.5 174.12h0M402.95 173.53h0M403.39 175.31h0M403.84 175.01h0M404.29 173.26h0M404.73 173.17h0M405.18 173.19h0M405.62 177.1h0M406.07 174.96h0M406.52 178.02h0M406.96 174h0M407.41 174.68h0M407.85 174.69h0M408.3 174.88h0M408.75 173.43h0M409.19 175.04h0M409.64 173.7h0M410.08 174.18h0M410.53 174.38h0M410.98 174.27h0M411.42 174.63h0M411.87 175.84h0M412.31 174.02h0M412.76 174.02h0M413.21 174.72h0M413.65 173.67h0M414.1 173.33h0M414.54 175.36h0M414.99 174.04h0M415.44 174.18h0M415.88 174.48h0M416.33 173.07h0M416.77 174.08h0M417.22 173.5h0M417.67 172.64h0M418.11 172.37h0M418.56 172.23h0M419 170.14h0M419.45 172.73h0M419.9 171.8h0M420.34 173.1h0M420.79 171.23h0M421.23 170.39h0M421.68 170.16h0M422.13 172.06h0M422.57 171.75h0M423.02 170.23h0M423.46 171.64h0M423.91 170.62h0M424.36 172.61h0M424.8 170.28h0M425.25 170.68h0M425.69 171.29h0M426.14 172.6h0M426.59 172h0M427.03 171.73h0M427.48 171.66h0M427.92 172.07h0M428.37 172.23h0M428.82 171.86h0M429.26 170.69h0M429.71 174.16h0M430.15 173.56h0M430.6 173.78h0M431.05 172.93h0M431.49 174.01h0M431.94 171.71h0M432.38 172.19h0M432.83 172.56h0M433.28 173.01h0M433.72 172.18h0M434.17 172.17h0M434.61 172.04h0M435.06 173.12h0M435.51 171.75h0M435.95 173.9h0M436.4 171.18h0M436.84 175.56h0M437.29 173.07h0M437.74 173.7h0M438.18 171.71h0M438.63 174.02h0M439.07 170.7h0M439.52 174.11h0M439.97 170.53h0M440.41 172.14h0M440.86 172.58h0M441.3 172.18h0M441.75 170.43h0M442.2 171.76h0M442.64 174.92h0M443.09 171.49h0M443.53 172.47h0M443.98 174.35h0M444.43 171.97h0M444.87 173.98h0M445.32 172.59h0M445.76 172.56h0M446.21 173.46h0M446.66 172.17h0M447.1 173.87h0M447.55 172.67h0M447.99 173.43h0M448.44 173.08h0M448.89 170.97h0M449.33 172.81h0M449.78 174.04h0M450.22 173.08h0M450.67 173.75h0M451.12 172.97h0M451.56 172.85h0M452.01 172.94h0M452.45 172.96h0M452.9 173.61h0" stroke="#4c72b0" stroke-width="3.2" stroke-linecap="round" fill="none"/>
<g font-family='"DejaVu Sans","Liberation Sans",sans-serif' font-size="6.5" fill="#333333" stroke="#333333" stroke-width="0.1">
<text transform="translate(386 269.8) scale(1.1 1)" text-anchor="middle">0</text>
<text transform="translate(430.6 269.8) scale(1.1 1)" text-anchor="middle">100</text>
<text transform="translate(376.2 180.44) scale(1.1 1)" text-anchor="end">0.7</text>
<text transform="translate(376.2 197.24) scale(1.1 1)" text-anchor="end">0.6</text>
<text transform="translate(376.2 214.04) scale(1.1 1)" text-anchor="end">0.5</text>
<text transform="translate(376.2 230.84) scale(1.1 1)" text-anchor="end">0.4</text>
<text transform="translate(376.2 247.64) scale(1.1 1)" text-anchor="end">0.3</text>
</g>
<text x="420.1" y="159.4" text-anchor="middle" font-family='"Liberation Serif","DejaVu Serif",serif' font-weight="bold" stroke="#111" stroke-width="0" font-size="7.7" fill="#111" textLength="51.7" lengthAdjust="spacingAndGlyphs">mAP50-95</text>
</g>
<g>
<rect x="38.5" y="317.5" width="60.4" height="89.8" fill="#d8d9e2"/>
<path d="M40.9 317.5V407.3M69.1 317.5V407.3M97.3 317.5V407.3M38.5 332.3H98.9M38.5 358.2H98.9M38.5 384.1H98.9" stroke="#e4e4ec" stroke-width="0.8" fill="none"/>
<polyline points="40.9,320.65 41.46,327.12 42.03,337.48 42.59,343.96 43.16,347.19 43.72,350.43 44.28,353.88 44.85,357.34 45.41,360.79 45.98,364.68 46.54,368.56 47.1,370.11 47.67,371.67 48.23,373.22 48.8,374.78 49.36,376.33 49.92,376.95 50.49,378.58 51.05,379 51.62,380.31 52.18,380.77 52.74,381.48 53.31,381.93 53.87,383.93 54.44,383.07 55,385.27 55.56,385.31 56.13,384.11 56.69,386.32 57.26,388.55 57.82,386.44 58.38,387.21 58.95,387.32 59.51,388.56 60.08,388.66 60.64,389.52 61.2,390.26 61.77,388.21 62.33,390.44 62.9,390.81 63.46,391.03 64.02,388.9 64.59,390.18 65.15,391.73 65.72,391.66 66.28,391.34 66.84,391.22 67.41,394.06 67.97,391.71 68.54,393.13 69.1,393.88 69.66,393.83 70.23,392.86 70.79,392.12 71.36,394.05 71.92,393.88 72.48,395.56 73.05,394.47 73.61,394.38 74.18,397.04 74.74,396.29 75.3,395.14 75.87,397.99 76.43,396.76 77,395.96 77.56,398.54 78.12,397.41 78.69,397.15 79.25,396.49 79.82,398.94 80.38,396.68 80.94,397.69 81.51,396.95 82.07,397.17 82.64,398.2 83.2,398.23 83.76,400.72 84.33,400.49 84.89,400.32 85.46,399.82 86.02,398.67 86.58,401.69 87.15,400.39 87.71,401.63 88.28,402.08 88.84,399.15 89.4,400.78 89.97,399.4 90.53,400.07 91.1,402.46 91.66,403.63 92.22,399.75 92.79,402.49 93.35,403.44 93.92,401.72 94.48,402.48 95.04,403.5 95.61,403.34 96.17,403 96.74,403.27 97.3,402.74" fill="none" stroke="#182f88" stroke-width="1.15" stroke-linejoin="round" stroke-linecap="round"/>
<path d="M40.9 320.65h0M41.46 327.12h0M42.03 337.48h0M42.59 343.96h0M43.16 347.19h0M43.72 350.43h0M44.28 353.88h0M44.85 357.34h0M45.41 360.79h0M45.98 364.68h0M46.54 368.56h0M47.1 370.11h0M47.67 371.67h0M48.23 373.22h0M48.8 374.78h0M49.36 376.33h0M49.92 376.95h0M50.49 378.58h0M51.05 379h0M51.62 380.31h0M52.18 380.77h0M52.74 381.48h0M53.31 381.93h0M53.87 383.93h0M54.44 383.07h0M55 385.27h0M55.56 385.31h0M56.13 384.11h0M56.69 386.32h0M57.26 388.55h0M57.82 386.44h0M58.38 387.21h0M58.95 387.32h0M59.51 388.56h0M60.08 388.66h0M60.64 389.52h0M61.2 390.26h0M61.77 388.21h0M62.33 390.44h0M62.9 390.81h0M63.46 391.03h0M64.02 388.9h0M64.59 390.18h0M65.15 391.73h0M65.72 391.66h0M66.28 391.34h0M66.84 391.22h0M67.41 394.06h0M67.97 391.71h0M68.54 393.13h0M69.1 393.88h0M69.66 393.83h0M70.23 392.86h0M70.79 392.12h0M71.36 394.05h0M71.92 393.88h0M72.48 395.56h0M73.05 394.47h0M73.61 394.38h0M74.18 397.04h0M74.74 396.29h0M75.3 395.14h0M75.87 397.99h0M76.43 396.76h0M77 395.96h0M77.56 398.54h0M78.12 397.41h0M78.69 397.15h0M79.25 396.49h0M79.82 398.94h0M80.38 396.68h0M80.94 397.69h0M81.51 396.95h0M82.07 397.17h0M82.64 398.2h0M83.2 398.23h0M83.76 400.72h0M84.33 400.49h0M84.89 400.32h0M85.46 399.82h0M86.02 398.67h0M86.58 401.69h0M87.15 400.39h0M87.71 401.63h0M88.28 402.08h0M88.84 399.15h0M89.4 400.78h0M89.97 399.4h0M90.53 400.07h0M91.1 402.46h0M91.66 403.63h0M92.22 399.75h0M92.79 402.49h0M93.35 403.44h0M93.92 401.72h0M94.48 402.48h0M95.04 403.5h0M95.61 403.34h0M96.17 403h0M96.74 403.27h0M97.3 402.74h0" stroke="#182f88" stroke-width="2.7" stroke-linecap="round" fill="none"/>
<g font-family='"Liberation Sans","DejaVu Sans",sans-serif' font-size="7.0" fill="#111111" stroke="#111111" stroke-width="0.18">
<text transform="translate(40.9 417.7) scale(0.85 1)" text-anchor="middle">0</text>
<text transform="translate(69.1 417.7) scale(0.85 1)" text-anchor="middle">50</text>
<text transform="translate(97.3 417.7) scale(0.85 1)" text-anchor="middle">100</text>
<text transform="translate(33.1 334.82) scale(0.85 1)" text-anchor="end">0.05</text>
<text transform="translate(33.1 360.72) scale(0.85 1)" text-anchor="end">0.04</text>
<text transform="translate(33.1 386.62) scale(0.85 1)" text-anchor="end">0.03</text>
</g>
<text x="67.6" y="313.2" text-anchor="middle" font-family='"Liberation Serif","DejaVu Serif",serif' font-weight="normal" stroke="#111" stroke-width="0.45" font-size="8.0" fill="#111" textLength="55.7" lengthAdjust="spacingAndGlyphs">train/box_loss</text>
</g>
<g>
<rect x="129" y="317.5" width="60.5" height="89.8" fill="#d8d9e2"/>
<path d="M131.4 317.5V407.3M159.6 317.5V407.3M187.8 317.5V407.3M129 330.9H189.5M129 353.7H189.5M129 376.5H189.5M129 399.3H189.5" stroke="#e4e4ec" stroke-width="0.8" fill="none"/>
<polyline points="131.4,320.64 131.96,360.54 132.53,359.9 133.09,361.89 133.66,357.3 134.22,359 134.78,355.13 135.35,354.85 135.91,353.82 136.48,362.39 137.04,357.66 137.6,361.82 138.17,359.08 138.73,358.79 139.3,366.77 139.86,363.45 140.42,368.94 140.99,360.48 141.55,366.87 142.12,371.14 142.68,369.46 143.24,364.86 143.81,365.71 144.37,367.72 144.94,375.18 145.5,374.67 146.06,370.29 146.63,378.21 147.19,377.95 147.76,380.7 148.32,382.23 148.88,375.66 149.45,377.82 150.01,378.82 150.58,378.89 151.14,378.03 151.7,377.04 152.27,381.99 152.83,383.44 153.4,385.92 153.96,380.13 154.52,385.32 155.09,388.68 155.65,385.5 156.22,385.09 156.78,383.15 157.34,383.1 157.91,388.7 158.47,389.36 159.04,388.42 159.6,391.49 160.16,388.68 160.73,387.45 161.29,389.14 161.86,394.51 162.42,391.54 162.98,389.17 163.55,392.25 164.11,390.71 164.68,391.28 165.24,392.83 165.8,393.82 166.37,392.68 166.93,394.15 167.5,393.57 168.06,393.48 168.62,394.65 169.19,394.31 169.75,394.64 170.32,395.92 170.88,394.96 171.44,395.81 172.01,397.5 172.57,396.15 173.14,396.43 173.7,397.14 174.26,399.14 174.83,396.25 175.39,396.7 175.96,397.08 176.52,397.79 177.08,399.82 177.65,398.48 178.21,399.9 178.78,396.58 179.34,399.89 179.9,398.77 180.47,401.53 181.03,401.33 181.6,400.82 182.16,399.64 182.72,400.04 183.29,400.57 183.85,403.24 184.42,400.06 184.98,402.64 185.54,399.97 186.11,399.91 186.67,401.32 187.24,401.37 187.8,404.16" fill="none" stroke="#182f88" stroke-width="1.15" stroke-linejoin="round" stroke-linecap="round"/>
<path d="M131.4 320.64h0M131.96 360.54h0M132.53 359.9h0M133.09 361.89h0M133.66 357.3h0M134.22 359h0M134.78 355.13h0M135.35 354.85h0M135.91 353.82h0M136.48 362.39h0M137.04 357.66h0M137.6 361.82h0M138.17 359.08h0M138.73 358.79h0M139.3 366.77h0M139.86 363.45h0M140.42 368.94h0M140.99 360.48h0M141.55 366.87h0M142.12 371.14h0M142.68 369.46h0M143.24 364.86h0M143.81 365.71h0M144.37 367.72h0M144.94 375.18h0M145.5 374.67h0M146.06 370.29h0M146.63 378.21h0M147.19 377.95h0M147.76 380.7h0M148.32 382.23h0M148.88 375.66h0M149.45 377.82h0M150.01 378.82h0M150.58 378.89h0M151.14 378.03h0M151.7 377.04h0M152.27 381.99h0M152.83 383.44h0M153.4 385.92h0M153.96 380.13h0M154.52 385.32h0M155.09 388.68h0M155.65 385.5h0M156.22 385.09h0M156.78 383.15h0M157.34 383.1h0M157.91 388.7h0M158.47 389.36h0M159.04 388.42h0M159.6 391.49h0M160.16 388.68h0M160.73 387.45h0M161.29 389.14h0M161.86 394.51h0M162.42 391.54h0M162.98 389.17h0M163.55 392.25h0M164.11 390.71h0M164.68 391.28h0M165.24 392.83h0M165.8 393.82h0M166.37 392.68h0M166.93 394.15h0M167.5 393.57h0M168.06 393.48h0M168.62 394.65h0M169.19 394.31h0M169.75 394.64h0M170.32 395.92h0M170.88 394.96h0M171.44 395.81h0M172.01 397.5h0M172.57 396.15h0M173.14 396.43h0M173.7 397.14h0M174.26 399.14h0M174.83 396.25h0M175.39 396.7h0M175.96 397.08h0M176.52 397.79h0M177.08 399.82h0M177.65 398.48h0M178.21 399.9h0M178.78 396.58h0M179.34 399.89h0M179.9 398.77h0M180.47 401.53h0M181.03 401.33h0M181.6 400.82h0M182.16 399.64h0M182.72 400.04h0M183.29 400.57h0M183.85 403.24h0M184.42 400.06h0M184.98 402.64h0M185.54 399.97h0M186.11 399.91h0M186.67 401.32h0M187.24 401.37h0M187.8 404.16h0" stroke="#182f88" stroke-width="2.7" stroke-linecap="round" fill="none"/>
<g font-family='"Liberation Sans","DejaVu Sans",sans-serif' font-size="7.0" fill="#111111" stroke="#111111" stroke-width="0.18">
<text transform="translate(131.4 417.7) scale(0.85 1)" text-anchor="middle">0</text>
<text transform="translate(159.6 417.7) scale(0.85 1)" text-anchor="middle">50</text>
<text transform="translate(187.8 417.7) scale(0.85 1)" text-anchor="middle">100</text>
<text transform="translate(123.6 333.42) scale(0.85 1)" text-anchor="end">0.010</text>
<text transform="translate(123.6 356.22) scale(0.85 1)" text-anchor="end">0.009</text>
<text transform="translate(123.6 379.02) scale(0.85 1)" text-anchor="end">0.008</text>
<text transform="translate(123.6 401.82) scale(0.85 1)" text-anchor="end">0.007</text>
</g>
<text x="157.7" y="313.2" text-anchor="middle" font-family='"Liberation Serif","DejaVu Serif",serif' font-weight="normal" stroke="#111" stroke-width="0.45" font-size="8.0" fill="#111" textLength="53.4" lengthAdjust="spacingAndGlyphs">train/obj_loss</text>
<rect x="149.2" y="320.2" width="38.5" height="10" rx="1.5" fill="#d8d9e2" fill-opacity="0.8" stroke="#cfcfd6" stroke-width="0.7"/>
<path d="M150.9 325.2H162.9" stroke="#182f88" stroke-width="1.5"/>
<circle cx="156.9" cy="325.2" r="1.45" fill="#182f88"/>
<text transform="translate(167.8 327.44) scale(0.85 1)" font-family='"Liberation Sans","DejaVu Sans",sans-serif' font-size="6.8" fill="#111111" stroke="#111111" stroke-width="0.18">results</text>
</g>
<g>
<rect x="219.8" y="317.5" width="60.5" height="89.8" fill="#d8d9e2"/>
<path d="M222 317.5V407.3M250.2 317.5V407.3M278.4 317.5V407.3M219.8 323.8H280.3M219.8 337.1H280.3M219.8 350.4H280.3M219.8 363.7H280.3M219.8 377H280.3M219.8 390.3H280.3M219.8 403.6H280.3" stroke="#e4e4ec" stroke-width="0.8" fill="none"/>
<polyline points="222,320.61 222.56,346.68 223.13,359.44 223.69,362.1 224.26,364.23 224.82,366.36 225.38,369.55 225.95,372.74 226.51,375.94 227.08,377 227.64,378.06 228.2,378.51 228.77,379.31 229.33,378.37 229.9,381.08 230.46,380.31 231.02,383.57 231.59,383.45 232.15,383.16 232.72,384.36 233.28,382.58 233.84,383.4 234.41,387.15 234.97,387.27 235.54,387.01 236.1,385.99 236.66,386.95 237.23,388.07 237.79,389.94 238.36,389.96 238.92,391.91 239.48,391.21 240.05,389.85 240.61,389.77 241.18,391.66 241.74,390.74 242.3,389.74 242.87,391.12 243.43,391.71 244,391.19 244.56,391.47 245.12,392.04 245.69,392.74 246.25,392.87 246.82,392.67 247.38,393.39 247.94,392.1 248.51,392.67 249.07,392.73 249.64,392.19 250.2,392.76 250.76,393.1 251.33,394.15 251.89,394.81 252.46,393.04 253.02,395.62 253.58,395.79 254.15,396.2 254.71,395.55 255.28,395.6 255.84,395.33 256.4,396.49 256.97,397.85 257.53,396.37 258.1,396.01 258.66,396.92 259.22,397.21 259.79,396.82 260.35,396.28 260.92,397.64 261.48,398.88 262.04,398.41 262.61,398.3 263.17,399.82 263.74,397.98 264.3,399.42 264.86,398.62 265.43,399.08 265.99,399.7 266.56,398.36 267.12,400.32 267.68,400.62 268.25,400.07 268.81,399.84 269.38,400.73 269.94,401.72 270.5,400.6 271.07,400.88 271.63,399.92 272.2,401.97 272.76,401.83 273.32,402.62 273.89,403.51 274.45,402.42 275.02,401.96 275.58,403.61 276.14,403.5 276.71,404.06 277.27,402.21 277.84,403.95 278.4,403.14" fill="none" stroke="#182f88" stroke-width="1.15" stroke-linejoin="round" stroke-linecap="round"/>
<path d="M222 320.61h0M222.56 346.68h0M223.13 359.44h0M223.69 362.1h0M224.26 364.23h0M224.82 366.36h0M225.38 369.55h0M225.95 372.74h0M226.51 375.94h0M227.08 377h0M227.64 378.06h0M228.2 378.51h0M228.77 379.31h0M229.33 378.37h0M229.9 381.08h0M230.46 380.31h0M231.02 383.57h0M231.59 383.45h0M232.15 383.16h0M232.72 384.36h0M233.28 382.58h0M233.84 383.4h0M234.41 387.15h0M234.97 387.27h0M235.54 387.01h0M236.1 385.99h0M236.66 386.95h0M237.23 388.07h0M237.79 389.94h0M238.36 389.96h0M238.92 391.91h0M239.48 391.21h0M240.05 389.85h0M240.61 389.77h0M241.18 391.66h0M241.74 390.74h0M242.3 389.74h0M242.87 391.12h0M243.43 391.71h0M244 391.19h0M244.56 391.47h0M245.12 392.04h0M245.69 392.74h0M246.25 392.87h0M246.82 392.67h0M247.38 393.39h0M247.94 392.1h0M248.51 392.67h0M249.07 392.73h0M249.64 392.19h0M250.2 392.76h0M250.76 393.1h0M251.33 394.15h0M251.89 394.81h0M252.46 393.04h0M253.02 395.62h0M253.58 395.79h0M254.15 396.2h0M254.71 395.55h0M255.28 395.6h0M255.84 395.33h0M256.4 396.49h0M256.97 397.85h0M257.53 396.37h0M258.1 396.01h0M258.66 396.92h0M259.22 397.21h0M259.79 396.82h0M260.35 396.28h0M260.92 397.64h0M261.48 398.88h0M262.04 398.41h0M262.61 398.3h0M263.17 399.82h0M263.74 397.98h0M264.3 399.42h0M264.86 398.62h0M265.43 399.08h0M265.99 399.7h0M266.56 398.36h0M267.12 400.32h0M267.68 400.62h0M268.25 400.07h0M268.81 399.84h0M269.38 400.73h0M269.94 401.72h0M270.5 400.6h0M271.07 400.88h0M271.63 399.92h0M272.2 401.97h0M272.76 401.83h0M273.32 402.62h0M273.89 403.51h0M274.45 402.42h0M275.02 401.96h0M275.58 403.61h0M276.14 403.5h0M276.71 404.06h0M277.27 402.21h0M277.84 403.95h0M278.4 403.14h0" stroke="#182f88" stroke-width="2.7" stroke-linecap="round" fill="none"/>
<g font-family='"Liberation Sans","DejaVu Sans",sans-serif' font-size="7.0" fill="#111111" stroke="#111111" stroke-width="0.18">
<text transform="translate(222 417.7) scale(0.85 1)" text-anchor="middle">0</text>
<text transform="translate(250.2 417.7) scale(0.85 1)" text-anchor="middle">50</text>
<text transform="translate(278.4 417.7) scale(0.85 1)" text-anchor="middle">100</text>
<text transform="translate(214.4 326.32) scale(0.85 1)" text-anchor="end">0.0200</text>
<text transform="translate(214.4 339.62) scale(0.85 1)" text-anchor="end">0.0175</text>
<text transform="translate(214.4 352.92) scale(0.85 1)" text-anchor="end">0.0150</text>
<text transform="translate(214.4 366.22) scale(0.85 1)" text-anchor="end">0.0125</text>
<text transform="translate(214.4 379.52) scale(0.85 1)" text-anchor="end">0.0100</text>
<text transform="translate(214.4 392.82) scale(0.85 1)" text-anchor="end">0.0075</text>
<text transform="translate(214.4 406.12) scale(0.85 1)" text-anchor="end">0.0050</text>
</g>
<text x="249.4" y="313.2" text-anchor="middle" font-family='"Liberation Serif","DejaVu Serif",serif' font-weight="normal" stroke="#111" stroke-width="0.45" font-size="8.0" fill="#111" textLength="52.7" lengthAdjust="spacingAndGlyphs">train/cls_loss</text>
</g>
<g>
<rect x="310.7" y="318.6" width="60.3" height="88.7" fill="#d8d9e2"/>
<path d="M313 318.6V407.3M341.2 318.6V407.3M369.4 318.6V407.3M310.7 322.7H371M310.7 343.05H371M310.7 363.4H371M310.7 383.75H371M310.7 404.1H371" stroke="#e4e4ec" stroke-width="0.8" fill="none"/>
<polyline points="313,404.1 313.56,352.21 314.13,385.79 314.69,334.91 315.26,331.86 315.82,328.81 316.38,328.59 316.95,326.17 317.51,326.69 318.08,328.45 318.64,325.15 319.2,324.5 319.77,327.58 320.33,325.15 320.9,325.36 321.46,326.05 322.02,324.63 322.59,326.29 323.15,323.21 323.72,321.66 324.28,324.24 324.84,322.58 325.41,320.55 325.97,321.94 326.54,322.52 327.1,322.79 327.66,330.62 328.23,340.16 328.79,321.93 329.36,330.66 329.92,333.59 330.48,334.72 331.05,332.77 331.61,333.76 332.18,328.35 332.74,321.36 333.3,329.46 333.87,336.38 334.43,333.44 335,331.22 335.56,330.59 336.12,337.6 336.69,343.6 337.25,338.94 337.82,334.88 338.38,333.27 338.94,341.51 339.51,350.75 340.07,358.06 340.64,360.2 341.2,367.97 341.76,350.88 342.33,338.63 342.89,344.2 343.46,344.36 344.02,348.25 344.58,351.76 345.15,357.95 345.71,345.87 346.28,340.54 346.84,333.29 347.4,339.66 347.97,349.38 348.53,342.37 349.1,335.19 349.66,332.35 350.22,343.05 350.79,360.77 351.35,349.48 351.92,338.19 352.48,329.67 353.04,335.54 353.61,342.12 354.17,356.33 354.74,368.9 355.3,363.33 355.86,354.68 356.43,342.93 356.99,329.37 357.56,344.08 358.12,367.15 358.68,369.69 359.25,371.62 359.81,357.11 360.38,344.21 360.94,345.47 361.5,341.81 362.07,354.78 362.63,365.45 363.2,357.19 363.76,344.95 364.32,349.95 364.89,360.51 365.45,348.34 366.02,338.91 366.58,329.64 367.14,344.65 367.71,360.02 368.27,356.75 368.84,354.74 369.4,351.22" fill="none" stroke="#182f88" stroke-width="1.15" stroke-linejoin="round" stroke-linecap="round"/>
<path d="M313 404.1h0M313.56 352.21h0M314.13 385.79h0M314.69 334.91h0M315.26 331.86h0M315.82 328.81h0M316.38 328.59h0M316.95 326.17h0M317.51 326.69h0M318.08 328.45h0M318.64 325.15h0M319.2 324.5h0M319.77 327.58h0M320.33 325.15h0M320.9 325.36h0M321.46 326.05h0M322.02 324.63h0M322.59 326.29h0M323.15 323.21h0M323.72 321.66h0M324.28 324.24h0M324.84 322.58h0M325.41 320.55h0M325.97 321.94h0M326.54 322.52h0M327.1 322.79h0M327.66 330.62h0M328.23 340.16h0M328.79 321.93h0M329.36 330.66h0M329.92 333.59h0M330.48 334.72h0M331.05 332.77h0M331.61 333.76h0M332.18 328.35h0M332.74 321.36h0M333.3 329.46h0M333.87 336.38h0M334.43 333.44h0M335 331.22h0M335.56 330.59h0M336.12 337.6h0M336.69 343.6h0M337.25 338.94h0M337.82 334.88h0M338.38 333.27h0M338.94 341.51h0M339.51 350.75h0M340.07 358.06h0M340.64 360.2h0M341.2 367.97h0M341.76 350.88h0M342.33 338.63h0M342.89 344.2h0M343.46 344.36h0M344.02 348.25h0M344.58 351.76h0M345.15 357.95h0M345.71 345.87h0M346.28 340.54h0M346.84 333.29h0M347.4 339.66h0M347.97 349.38h0M348.53 342.37h0M349.1 335.19h0M349.66 332.35h0M350.22 343.05h0M350.79 360.77h0M351.35 349.48h0M351.92 338.19h0M352.48 329.67h0M353.04 335.54h0M353.61 342.12h0M354.17 356.33h0M354.74 368.9h0M355.3 363.33h0M355.86 354.68h0M356.43 342.93h0M356.99 329.37h0M357.56 344.08h0M358.12 367.15h0M358.68 369.69h0M359.25 371.62h0M359.81 357.11h0M360.38 344.21h0M360.94 345.47h0M361.5 341.81h0M362.07 354.78h0M362.63 365.45h0M363.2 357.19h0M363.76 344.95h0M364.32 349.95h0M364.89 360.51h0M365.45 348.34h0M366.02 338.91h0M366.58 329.64h0M367.14 344.65h0M367.71 360.02h0M368.27 356.75h0M368.84 354.74h0M369.4 351.22h0" stroke="#182f88" stroke-width="2.7" stroke-linecap="round" fill="none"/>
<g font-family='"Liberation Sans","DejaVu Sans",sans-serif' font-size="7.0" fill="#111111" stroke="#111111" stroke-width="0.18">
<text transform="translate(313 417.7) scale(0.85 1)" text-anchor="middle">0</text>
<text transform="translate(341.2 417.7) scale(0.85 1)" text-anchor="middle">50</text>
<text transform="translate(369.4 417.7) scale(0.85 1)" text-anchor="middle">100</text>
<text transform="translate(305.3 325.22) scale(0.85 1)" text-anchor="end">0.8</text>
<text transform="translate(305.3 345.57) scale(0.85 1)" text-anchor="end">0.6</text>
<text transform="translate(305.3 365.92) scale(0.85 1)" text-anchor="end">0.4</text>
<text transform="translate(305.3 386.27) scale(0.85 1)" text-anchor="end">0.2</text>
<text transform="translate(305.3 406.62) scale(0.85 1)" text-anchor="end">0.0</text>
</g>
<text x="337.6" y="313.2" text-anchor="middle" font-family='"Liberation Serif","DejaVu Serif",serif' font-weight="normal" stroke="#111" stroke-width="0.45" font-size="8.0" fill="#111" textLength="34.2" lengthAdjust="spacingAndGlyphs">precision</text>
</g>
<g>
<rect x="401.3" y="317.5" width="60.4" height="89.8" fill="#d8d9e2"/>
<path d="M403.6 317.5V407.3M431.8 317.5V407.3M460 317.5V407.3M401.3 324H461.7M401.3 340.1H461.7M401.3 356.2H461.7M401.3 372.3H461.7M401.3 388.4H461.7M401.3 404.5H461.7" stroke="#e4e4ec" stroke-width="0.8" fill="none"/>
<polyline points="403.6,404.5 404.16,402.08 404.73,399.67 405.29,390.01 405.86,388.4 406.42,388.4 406.98,387.6 407.55,383.57 408.11,378.74 408.68,375.92 409.24,373.11 409.8,374.31 410.37,375.52 410.93,371.15 411.5,372.09 412.06,371.61 412.62,372.18 413.19,373.76 413.75,373.01 414.32,373.87 414.88,372.84 415.44,374.62 416.01,375.93 416.57,373.58 417.14,371.84 417.7,369.53 418.26,372.22 418.83,375.55 419.39,375.77 419.96,373.37 420.52,369.29 421.08,366.87 421.65,364.49 422.21,366.97 422.78,372.08 423.34,370.88 423.9,368.69 424.47,369.2 425.03,373.68 425.6,366.59 426.16,328.77 426.72,367.42 427.29,363.6 427.85,367.36 428.42,364.22 428.98,359.21 429.54,359.41 430.11,367.3 430.67,335.04 431.24,355.47 431.8,326.69 432.36,349.6 432.93,348.94 433.49,346.16 434.06,347.26 434.62,349.55 435.18,342.98 435.75,341.51 436.31,338.82 436.88,342.89 437.44,346.32 438,342.52 438.57,336.44 439.13,344.02 439.7,347.53 440.26,348.25 440.82,342.1 441.39,339.75 441.95,351.33 442.52,343.73 443.08,339.48 443.64,342.34 444.21,351.58 444.77,341.71 445.34,338.51 445.9,333.83 446.46,331.28 447.03,329.82 447.59,350.92 448.16,346.67 448.72,344.46 449.28,338.25 449.85,327.37 450.41,332.07 450.98,339.76 451.54,338.9 452.1,334.09 452.67,332.1 453.23,326.48 453.8,333.22 454.36,336.61 454.92,326.57 455.49,322.51 456.05,317.08 456.62,331.53 457.18,341.43 457.74,336.15 458.31,330.97 458.87,331.92 459.44,329.02 460,331.5" fill="none" stroke="#182f88" stroke-width="1.15" stroke-linejoin="round" stroke-linecap="round"/>
<path d="M403.6 404.5h0M404.16 402.08h0M404.73 399.67h0M405.29 390.01h0M405.86 388.4h0M406.42 388.4h0M406.98 387.6h0M407.55 383.57h0M408.11 378.74h0M408.68 375.92h0M409.24 373.11h0M409.8 374.31h0M410.37 375.52h0M410.93 371.15h0M411.5 372.09h0M412.06 371.61h0M412.62 372.18h0M413.19 373.76h0M413.75 373.01h0M414.32 373.87h0M414.88 372.84h0M415.44 374.62h0M416.01 375.93h0M416.57 373.58h0M417.14 371.84h0M417.7 369.53h0M418.26 372.22h0M418.83 375.55h0M419.39 375.77h0M419.96 373.37h0M420.52 369.29h0M421.08 366.87h0M421.65 364.49h0M422.21 366.97h0M422.78 372.08h0M423.34 370.88h0M423.9 368.69h0M424.47 369.2h0M425.03 373.68h0M425.6 366.59h0M426.16 328.77h0M426.72 367.42h0M427.29 363.6h0M427.85 367.36h0M428.42 364.22h0M428.98 359.21h0M429.54 359.41h0M430.11 367.3h0M430.67 335.04h0M431.24 355.47h0M431.8 326.69h0M432.36 349.6h0M432.93 348.94h0M433.49 346.16h0M434.06 347.26h0M434.62 349.55h0M435.18 342.98h0M435.75 341.51h0M436.31 338.82h0M436.88 342.89h0M437.44 346.32h0M438 342.52h0M438.57 336.44h0M439.13 344.02h0M439.7 347.53h0M440.26 348.25h0M440.82 342.1h0M441.39 339.75h0M441.95 351.33h0M442.52 343.73h0M443.08 339.48h0M443.64 342.34h0M444.21 351.58h0M444.77 341.71h0M445.34 338.51h0M445.9 333.83h0M446.46 331.28h0M447.03 329.82h0M447.59 350.92h0M448.16 346.67h0M448.72 344.46h0M449.28 338.25h0M449.85 327.37h0M450.41 332.07h0M450.98 339.76h0M451.54 338.9h0M452.1 334.09h0M452.67 332.1h0M453.23 326.48h0M453.8 333.22h0M454.36 336.61h0M454.92 326.57h0M455.49 322.51h0M456.05 317.08h0M456.62 331.53h0M457.18 341.43h0M457.74 336.15h0M458.31 330.97h0M458.87 331.92h0M459.44 329.02h0M460 331.5h0" stroke="#182f88" stroke-width="2.7" stroke-linecap="round" fill="none"/>
<g font-family='"Liberation Sans","DejaVu Sans",sans-serif' font-size="7.0" fill="#111111" stroke="#111111" stroke-width="0.18">
<text transform="translate(403.6 417.7) scale(0.85 1)" text-anchor="middle">0</text>
<text transform="translate(431.8 417.7) scale(0.85 1)" text-anchor="middle">50</text>
<text transform="translate(460 417.7) scale(0.85 1)" text-anchor="middle">100</text>
<text transform="translate(395.9 326.52) scale(0.85 1)" text-anchor="end">0.5</text>
<text transform="translate(395.9 342.62) scale(0.85 1)" text-anchor="end">0.4</text>
<text transform="translate(395.9 358.72) scale(0.85 1)" text-anchor="end">0.3</text>
<text transform="translate(395.9 374.82) scale(0.85 1)" text-anchor="end">0.2</text>
<text transform="translate(395.9 390.92) scale(0.85 1)" text-anchor="end">0.1</text>
<text transform="translate(395.9 407.02) scale(0.85 1)" text-anchor="end">0.0</text>
</g>
<text x="427" y="314.6" text-anchor="middle" font-family='"Liberation Serif","DejaVu Serif",serif' font-weight="normal" stroke="#111" stroke-width="0.45" font-size="8.0" fill="#111" textLength="21.2" lengthAdjust="spacingAndGlyphs">recall</text>
</g>
<g>
<rect x="38.5" y="435.2" width="60.4" height="90.7" fill="#d8d9e2"/>
<path d="M40.9 435.2V525.9M69.1 435.2V525.9M97.3 435.2V525.9M38.5 436.8H98.9M38.5 451.3H98.9M38.5 465.8H98.9M38.5 480.3H98.9M38.5 494.8H98.9M38.5 509.3H98.9M38.5 523.8H98.9" stroke="#e4e4ec" stroke-width="0.8" fill="none"/>
<polyline points="40.9,438.25 41.46,451.3 42.03,454.2 42.59,448.4 43.16,455.65 43.72,462.9 44.28,473.05 44.85,480.3 45.41,474.5 45.98,481.75 46.54,486.1 47.1,481.75 47.67,477.4 48.23,480.3 48.8,483.2 49.36,481.75 49.92,480.3 50.49,473.63 51.05,480.3 51.62,482.47 52.18,484.65 52.74,482.47 53.31,478.33 53.87,481.31 54.44,486.75 55,486.7 55.56,488.74 56.13,487.81 56.69,490.94 57.26,490.58 57.82,491.11 58.38,496.76 58.95,496.37 59.51,494.32 60.08,495.56 60.64,494.78 61.2,496.5 61.77,499.25 62.33,497.51 62.9,499.66 63.46,499.48 64.02,500.18 64.59,499.22 65.15,502.08 65.72,501.93 66.28,503.83 66.84,498.07 67.41,503.21 67.97,503.59 68.54,504.59 69.1,504.43 69.66,504.72 70.23,503.77 70.79,504.98 71.36,505.34 71.92,507.26 72.48,507.38 73.05,506.37 73.61,509.04 74.18,509.44 74.74,513.69 75.3,510 75.87,510.38 76.43,508.88 77,514.74 77.56,510.72 78.12,511.81 78.69,512.38 79.25,514.29 79.82,513.94 80.38,514.1 80.94,515.64 81.51,516.71 82.07,517.17 82.64,518.01 83.2,517.97 83.76,518.78 84.33,520.33 84.89,515.19 85.46,519.42 86.02,516.75 86.58,518.77 87.15,517.58 87.71,518.86 88.28,517.81 88.84,519.26 89.4,520.04 89.97,517.83 90.53,516.46 91.1,518.01 91.66,518.47 92.22,520.33 92.79,519.1 93.35,518.51 93.92,520.27 94.48,518.2 95.04,519.85 95.61,519.57 96.17,521.1 96.74,521.38 97.3,520.64" fill="none" stroke="#182f88" stroke-width="1.15" stroke-linejoin="round" stroke-linecap="round"/>
<path d="M40.9 438.25h0M41.46 451.3h0M42.03 454.2h0M42.59 448.4h0M43.16 455.65h0M43.72 462.9h0M44.28 473.05h0M44.85 480.3h0M45.41 474.5h0M45.98 481.75h0M46.54 486.1h0M47.1 481.75h0M47.67 477.4h0M48.23 480.3h0M48.8 483.2h0M49.36 481.75h0M49.92 480.3h0M50.49 473.63h0M51.05 480.3h0M51.62 482.47h0M52.18 484.65h0M52.74 482.47h0M53.31 478.33h0M53.87 481.31h0M54.44 486.75h0M55 486.7h0M55.56 488.74h0M56.13 487.81h0M56.69 490.94h0M57.26 490.58h0M57.82 491.11h0M58.38 496.76h0M58.95 496.37h0M59.51 494.32h0M60.08 495.56h0M60.64 494.78h0M61.2 496.5h0M61.77 499.25h0M62.33 497.51h0M62.9 499.66h0M63.46 499.48h0M64.02 500.18h0M64.59 499.22h0M65.15 502.08h0M65.72 501.93h0M66.28 503.83h0M66.84 498.07h0M67.41 503.21h0M67.97 503.59h0M68.54 504.59h0M69.1 504.43h0M69.66 504.72h0M70.23 503.77h0M70.79 504.98h0M71.36 505.34h0M71.92 507.26h0M72.48 507.38h0M73.05 506.37h0M73.61 509.04h0M74.18 509.44h0M74.74 513.69h0M75.3 510h0M75.87 510.38h0M76.43 508.88h0M77 514.74h0M77.56 510.72h0M78.12 511.81h0M78.69 512.38h0M79.25 514.29h0M79.82 513.94h0M80.38 514.1h0M80.94 515.64h0M81.51 516.71h0M82.07 517.17h0M82.64 518.01h0M83.2 517.97h0M83.76 518.78h0M84.33 520.33h0M84.89 515.19h0M85.46 519.42h0M86.02 516.75h0M86.58 518.77h0M87.15 517.58h0M87.71 518.86h0M88.28 517.81h0M88.84 519.26h0M89.4 520.04h0M89.97 517.83h0M90.53 516.46h0M91.1 518.01h0M91.66 518.47h0M92.22 520.33h0M92.79 519.1h0M93.35 518.51h0M93.92 520.27h0M94.48 518.2h0M95.04 519.85h0M95.61 519.57h0M96.17 521.1h0M96.74 521.38h0M97.3 520.64h0" stroke="#182f88" stroke-width="2.7" stroke-linecap="round" fill="none"/>
<g font-family='"Liberation Sans","DejaVu Sans",sans-serif' font-size="7.0" fill="#111111" stroke="#111111" stroke-width="0.18">
<text transform="translate(40.9 536.3) scale(0.85 1)" text-anchor="middle">0</text>
<text transform="translate(69.1 536.3) scale(0.85 1)" text-anchor="middle">50</text>
<text transform="translate(97.3 536.3) scale(0.85 1)" text-anchor="middle">100</text>
<text transform="translate(33.1 439.32) scale(0.85 1)" text-anchor="end">0.070</text>
<text transform="translate(33.1 453.82) scale(0.85 1)" text-anchor="end">0.065</text>
<text transform="translate(33.1 468.32) scale(0.85 1)" text-anchor="end">0.060</text>
<text transform="translate(33.1 482.82) scale(0.85 1)" text-anchor="end">0.055</text>
<text transform="translate(33.1 497.32) scale(0.85 1)" text-anchor="end">0.050</text>
<text transform="translate(33.1 511.82) scale(0.85 1)" text-anchor="end">0.045</text>
<text transform="translate(33.1 526.32) scale(0.85 1)" text-anchor="end">0.040</text>
</g>
<text x="68" y="429.2" text-anchor="middle" font-family='"Liberation Serif","DejaVu Serif",serif' font-weight="normal" stroke="#111" stroke-width="0.45" font-size="7.5" fill="#111" textLength="48.4" lengthAdjust="spacingAndGlyphs">val/box_loss</text>
</g>
<g>
<rect x="129" y="435.2" width="60.5" height="90.7" fill="#d8d9e2"/>
<path d="M131.4 435.2V525.9M159.6 435.2V525.9M187.8 435.2V525.9M129 455.4H189.5M129 476.1H189.5M129 496.8H189.5M129 517.5H189.5" stroke="#e4e4ec" stroke-width="0.8" fill="none"/>
<polyline points="131.4,460.57 131.96,448.15 132.53,451.26 133.09,455.4 133.66,450.22 134.22,451.26 134.78,456.43 135.35,445.05 135.91,438.84 136.48,440.91 137.04,439.88 137.6,455.4 138.17,461.61 138.73,439.88 139.3,438.84 139.86,462.64 140.42,475.53 140.99,476.63 141.55,479.93 142.12,481.53 142.68,482.42 143.24,490.63 143.81,491.01 144.37,492.9 144.94,494.05 145.5,495.99 146.06,491.38 146.63,491.12 147.19,490.29 147.76,495.54 148.32,501.42 148.88,499.82 149.45,503.97 150.01,506.03 150.58,508.67 151.14,511.59 151.7,508.2 152.27,504.59 152.83,502.35 153.4,509.47 153.96,515.69 154.52,512.72 155.09,508.71 155.65,505.81 156.22,507.37 156.78,515.68 157.34,513.32 157.91,513.83 158.47,514.12 159.04,513.23 159.6,513.87 160.16,514.73 160.73,516.18 161.29,515.29 161.86,515.02 162.42,514.89 162.98,518.05 163.55,518.52 164.11,516.79 164.68,517.32 165.24,513.82 165.8,517.3 166.37,516.23 166.93,518.99 167.5,517.76 168.06,517.28 168.62,515.76 169.19,520.13 169.75,519.06 170.32,521.56 170.88,518.56 171.44,516.36 172.01,514.29 172.57,514.13 173.14,515.17 173.7,520.27 174.26,518.1 174.83,522.21 175.39,518.7 175.96,519.67 176.52,518.39 177.08,517.38 177.65,515.59 178.21,516.22 178.78,518.06 179.34,516.37 179.9,517.85 180.47,517.74 181.03,519.78 181.6,519.07 182.16,521.96 182.72,515.33 183.29,522.92 183.85,521.79 184.42,518.77 184.98,517.63 185.54,520.3 186.11,521.05 186.67,519.92 187.24,520.29 187.8,520.98" fill="none" stroke="#182f88" stroke-width="1.15" stroke-linejoin="round" stroke-linecap="round"/>
<path d="M131.4 460.57h0M131.96 448.15h0M132.53 451.26h0M133.09 455.4h0M133.66 450.22h0M134.22 451.26h0M134.78 456.43h0M135.35 445.05h0M135.91 438.84h0M136.48 440.91h0M137.04 439.88h0M137.6 455.4h0M138.17 461.61h0M138.73 439.88h0M139.3 438.84h0M139.86 462.64h0M140.42 475.53h0M140.99 476.63h0M141.55 479.93h0M142.12 481.53h0M142.68 482.42h0M143.24 490.63h0M143.81 491.01h0M144.37 492.9h0M144.94 494.05h0M145.5 495.99h0M146.06 491.38h0M146.63 491.12h0M147.19 490.29h0M147.76 495.54h0M148.32 501.42h0M148.88 499.82h0M149.45 503.97h0M150.01 506.03h0M150.58 508.67h0M151.14 511.59h0M151.7 508.2h0M152.27 504.59h0M152.83 502.35h0M153.4 509.47h0M153.96 515.69h0M154.52 512.72h0M155.09 508.71h0M155.65 505.81h0M156.22 507.37h0M156.78 515.68h0M157.34 513.32h0M157.91 513.83h0M158.47 514.12h0M159.04 513.23h0M159.6 513.87h0M160.16 514.73h0M160.73 516.18h0M161.29 515.29h0M161.86 515.02h0M162.42 514.89h0M162.98 518.05h0M163.55 518.52h0M164.11 516.79h0M164.68 517.32h0M165.24 513.82h0M165.8 517.3h0M166.37 516.23h0M166.93 518.99h0M167.5 517.76h0M168.06 517.28h0M168.62 515.76h0M169.19 520.13h0M169.75 519.06h0M170.32 521.56h0M170.88 518.56h0M171.44 516.36h0M172.01 514.29h0M172.57 514.13h0M173.14 515.17h0M173.7 520.27h0M174.26 518.1h0M174.83 522.21h0M175.39 518.7h0M175.96 519.67h0M176.52 518.39h0M177.08 517.38h0M177.65 515.59h0M178.21 516.22h0M178.78 518.06h0M179.34 516.37h0M179.9 517.85h0M180.47 517.74h0M181.03 519.78h0M181.6 519.07h0M182.16 521.96h0M182.72 515.33h0M183.29 522.92h0M183.85 521.79h0M184.42 518.77h0M184.98 517.63h0M185.54 520.3h0M186.11 521.05h0M186.67 519.92h0M187.24 520.29h0M187.8 520.98h0" stroke="#182f88" stroke-width="2.7" stroke-linecap="round" fill="none"/>
<g font-family='"Liberation Sans","DejaVu Sans",sans-serif' font-size="7.0" fill="#111111" stroke="#111111" stroke-width="0.18">
<text transform="translate(131.4 536.3) scale(0.85 1)" text-anchor="middle">0</text>
<text transform="translate(159.6 536.3) scale(0.85 1)" text-anchor="middle">50</text>
<text transform="translate(187.8 536.3) scale(0.85 1)" text-anchor="middle">100</text>
<text transform="translate(123.6 437.22) scale(0.85 1)" text-anchor="end">0.013</text>
<text transform="translate(123.6 457.92) scale(0.85 1)" text-anchor="end">0.012</text>
<text transform="translate(123.6 478.62) scale(0.85 1)" text-anchor="end">0.011</text>
<text transform="translate(123.6 499.32) scale(0.85 1)" text-anchor="end">0.010</text>
<text transform="translate(123.6 520.02) scale(0.85 1)" text-anchor="end">0.009</text>
</g>
<text x="158.5" y="429.2" text-anchor="middle" font-family='"Liberation Serif","DejaVu Serif",serif' font-weight="normal" stroke="#111" stroke-width="0.45" font-size="7.5" fill="#111" textLength="46.1" lengthAdjust="spacingAndGlyphs">val/obj_loss</text>
</g>
<g>
<rect x="219.8" y="435.2" width="60.5" height="90.7" fill="#d8d9e2"/>
<path d="M222 435.2V525.9M250.2 435.2V525.9M278.4 435.2V525.9M219.8 444.4H280.3M219.8 461.7H280.3M219.8 479H280.3M219.8 496.3H280.3M219.8 513.6H280.3" stroke="#e4e4ec" stroke-width="0.8" fill="none"/>
<polyline points="222,498.03 222.56,501.49 223.13,504.95 223.69,506.68 224.26,507.03 224.82,507.37 225.38,505.3 225.95,503.22 226.51,439.21 227.08,499.76 227.64,452.01 228.2,503.22 228.77,506.68 229.33,507.55 229.9,508.41 230.46,496.3 231.02,510.14 231.59,504.95 232.15,488.69 232.72,505.11 233.28,506.01 233.84,506.21 234.41,507.61 234.97,507.04 235.54,507.33 236.1,507.48 236.66,503.03 237.23,497.9 237.79,506.21 238.36,505.68 238.92,507.09 239.48,506.53 240.05,507.84 240.61,510.37 241.18,508.68 241.74,505.41 242.3,506.97 242.87,508.09 243.43,511.34 244,508.85 244.56,509.26 245.12,488.2 245.69,511.48 246.25,512.03 246.82,513.35 247.38,514.45 247.94,511.42 248.51,508.6 249.07,511.55 249.64,511.56 250.2,513.06 250.76,514.56 251.33,514.84 251.89,515.58 252.46,516.59 253.02,517.91 253.58,517.01 254.15,518.37 254.71,516.55 255.28,518.28 255.84,517.46 256.4,518.52 256.97,517.95 257.53,518.57 258.1,518.26 258.66,519.39 259.22,519.45 259.79,518 260.35,505.24 260.92,518.84 261.48,518.63 262.04,519.65 262.61,518.76 263.17,519.33 263.74,519.29 264.3,517.73 264.86,519.63 265.43,519.69 265.99,519.72 266.56,520.46 267.12,520.98 267.68,520.1 268.25,520.14 268.81,523.01 269.38,521.24 269.94,521.5 270.5,521.52 271.07,520.13 271.63,521.22 272.2,520.11 272.76,520.95 273.32,520.72 273.89,519.79 274.45,520.67 275.02,520.13 275.58,520.65 276.14,520.77 276.71,519.94 277.27,520.31 277.84,521.78 278.4,522.09" fill="none" stroke="#182f88" stroke-width="1.15" stroke-linejoin="round" stroke-linecap="round"/>
<path d="M222 498.03h0M222.56 501.49h0M223.13 504.95h0M223.69 506.68h0M224.26 507.03h0M224.82 507.37h0M225.38 505.3h0M225.95 503.22h0M226.51 439.21h0M227.08 499.76h0M227.64 452.01h0M228.2 503.22h0M228.77 506.68h0M229.33 507.55h0M229.9 508.41h0M230.46 496.3h0M231.02 510.14h0M231.59 504.95h0M232.15 488.69h0M232.72 505.11h0M233.28 506.01h0M233.84 506.21h0M234.41 507.61h0M234.97 507.04h0M235.54 507.33h0M236.1 507.48h0M236.66 503.03h0M237.23 497.9h0M237.79 506.21h0M238.36 505.68h0M238.92 507.09h0M239.48 506.53h0M240.05 507.84h0M240.61 510.37h0M241.18 508.68h0M241.74 505.41h0M242.3 506.97h0M242.87 508.09h0M243.43 511.34h0M244 508.85h0M244.56 509.26h0M245.12 488.2h0M245.69 511.48h0M246.25 512.03h0M246.82 513.35h0M247.38 514.45h0M247.94 511.42h0M248.51 508.6h0M249.07 511.55h0M249.64 511.56h0M250.2 513.06h0M250.76 514.56h0M251.33 514.84h0M251.89 515.58h0M252.46 516.59h0M253.02 517.91h0M253.58 517.01h0M254.15 518.37h0M254.71 516.55h0M255.28 518.28h0M255.84 517.46h0M256.4 518.52h0M256.97 517.95h0M257.53 518.57h0M258.1 518.26h0M258.66 519.39h0M259.22 519.45h0M259.79 518h0M260.35 505.24h0M260.92 518.84h0M261.48 518.63h0M262.04 519.65h0M262.61 518.76h0M263.17 519.33h0M263.74 519.29h0M264.3 517.73h0M264.86 519.63h0M265.43 519.69h0M265.99 519.72h0M266.56 520.46h0M267.12 520.98h0M267.68 520.1h0M268.25 520.14h0M268.81 523.01h0M269.38 521.24h0M269.94 521.5h0M270.5 521.52h0M271.07 520.13h0M271.63 521.22h0M272.2 520.11h0M272.76 520.95h0M273.32 520.72h0M273.89 519.79h0M274.45 520.67h0M275.02 520.13h0M275.58 520.65h0M276.14 520.77h0M276.71 519.94h0M277.27 520.31h0M277.84 521.78h0M278.4 522.09h0" stroke="#182f88" stroke-width="2.7" stroke-linecap="round" fill="none"/>
<g font-family='"Liberation Sans","DejaVu Sans",sans-serif' font-size="7.0" fill="#111111" stroke="#111111" stroke-width="0.18">
<text transform="translate(222 536.3) scale(0.85 1)" text-anchor="middle">0</text>
<text transform="translate(250.2 536.3) scale(0.85 1)" text-anchor="middle">50</text>
<text transform="translate(278.4 536.3) scale(0.85 1)" text-anchor="middle">100</text>
<text transform="translate(214.4 446.92) scale(0.85 1)" text-anchor="end">0.030</text>
<text transform="translate(214.4 464.22) scale(0.85 1)" text-anchor="end">0.025</text>
<text transform="translate(214.4 481.52) scale(0.85 1)" text-anchor="end">0.020</text>
<text transform="translate(214.4 498.82) scale(0.85 1)" text-anchor="end">0.015</text>
<text transform="translate(214.4 516.12) scale(0.85 1)" text-anchor="end">0.010</text>
</g>
<text x="249.6" y="429.2" text-anchor="middle" font-family='"Liberation Serif","DejaVu Serif",serif' font-weight="normal" stroke="#111" stroke-width="0.45" font-size="7.5" fill="#111" textLength="43.5" lengthAdjust="spacingAndGlyphs">val/cls_loss</text>
</g>
<g>
<rect x="310.7" y="435.5" width="60.3" height="90.4" fill="#d8d9e2"/>
<path d="M313 435.5V525.9M341.2 435.5V525.9M369.4 435.5V525.9M310.7 446.2H371M310.7 465.1H371M310.7 484H371M310.7 502.9H371M310.7 521.8H371" stroke="#e4e4ec" stroke-width="0.8" fill="none"/>
<polyline points="313,521.8 313.56,521.33 314.13,520.85 314.69,518.02 315.26,515.18 315.82,509.55 316.38,511.28 316.95,509.65 317.51,506.82 318.08,507.02 318.64,505.29 319.2,505.29 319.77,506.58 320.33,502.27 320.9,501.94 321.46,505.04 322.02,509.88 322.59,505.36 323.15,501.45 323.72,499.09 324.28,497.95 324.84,498.58 325.41,496.93 325.97,497.18 326.54,496.65 327.1,495.59 327.66,493.52 328.23,493.61 328.79,491.73 329.36,490.64 329.92,491.69 330.48,491.58 331.05,491.03 331.61,489.07 332.18,487.65 332.74,486.08 333.3,483.68 333.87,475.48 334.43,479.1 335,473.29 335.56,471.59 336.12,475.15 336.69,480.14 337.25,475.52 337.82,472.11 338.38,477.2 338.94,482.27 339.51,479.68 340.07,474.74 340.64,470.41 341.2,466.21 341.76,472.85 342.33,477.21 342.89,469.64 343.46,465.01 344.02,464.86 344.58,467.22 345.15,468.18 345.71,464.34 346.28,462.17 346.84,457.85 347.4,454.35 347.97,453.36 348.53,456.89 349.1,459.67 349.66,455.74 350.22,451.29 350.79,457.03 351.35,459.78 351.92,454.11 352.48,446.01 353.04,450.87 353.61,455.64 354.17,456.21 354.74,455.99 355.3,454.79 355.86,452.27 356.43,452.6 356.99,451.91 357.56,449.97 358.12,450.22 358.68,447.84 359.25,445.95 359.81,447.78 360.38,446.53 360.94,448.05 361.5,445.42 362.07,445.79 362.63,445.61 363.2,444.11 363.76,437.83 364.32,443.36 364.89,444.79 365.45,442.78 366.02,441.83 366.58,441.2 367.14,443.77 367.71,447.26 368.27,443.49 368.84,442.25 369.4,445.06" fill="none" stroke="#182f88" stroke-width="1.15" stroke-linejoin="round" stroke-linecap="round"/>
<path d="M313 521.8h0M313.56 521.33h0M314.13 520.85h0M314.69 518.02h0M315.26 515.18h0M315.82 509.55h0M316.38 511.28h0M316.95 509.65h0M317.51 506.82h0M318.08 507.02h0M318.64 505.29h0M319.2 505.29h0M319.77 506.58h0M320.33 502.27h0M320.9 501.94h0M321.46 505.04h0M322.02 509.88h0M322.59 505.36h0M323.15 501.45h0M323.72 499.09h0M324.28 497.95h0M324.84 498.58h0M325.41 496.93h0M325.97 497.18h0M326.54 496.65h0M327.1 495.59h0M327.66 493.52h0M328.23 493.61h0M328.79 491.73h0M329.36 490.64h0M329.92 491.69h0M330.48 491.58h0M331.05 491.03h0M331.61 489.07h0M332.18 487.65h0M332.74 486.08h0M333.3 483.68h0M333.87 475.48h0M334.43 479.1h0M335 473.29h0M335.56 471.59h0M336.12 475.15h0M336.69 480.14h0M337.25 475.52h0M337.82 472.11h0M338.38 477.2h0M338.94 482.27h0M339.51 479.68h0M340.07 474.74h0M340.64 470.41h0M341.2 466.21h0M341.76 472.85h0M342.33 477.21h0M342.89 469.64h0M343.46 465.01h0M344.02 464.86h0M344.58 467.22h0M345.15 468.18h0M345.71 464.34h0M346.28 462.17h0M346.84 457.85h0M347.4 454.35h0M347.97 453.36h0M348.53 456.89h0M349.1 459.67h0M349.66 455.74h0M350.22 451.29h0M350.79 457.03h0M351.35 459.78h0M351.92 454.11h0M352.48 446.01h0M353.04 450.87h0M353.61 455.64h0M354.17 456.21h0M354.74 455.99h0M355.3 454.79h0M355.86 452.27h0M356.43 452.6h0M356.99 451.91h0M357.56 449.97h0M358.12 450.22h0M358.68 447.84h0M359.25 445.95h0M359.81 447.78h0M360.38 446.53h0M360.94 448.05h0M361.5 445.42h0M362.07 445.79h0M362.63 445.61h0M363.2 444.11h0M363.76 437.83h0M364.32 443.36h0M364.89 444.79h0M365.45 442.78h0M366.02 441.83h0M366.58 441.2h0M367.14 443.77h0M367.71 447.26h0M368.27 443.49h0M368.84 442.25h0M369.4 445.06h0" stroke="#182f88" stroke-width="2.7" stroke-linecap="round" fill="none"/>
<g font-family='"Liberation Sans","DejaVu Sans",sans-serif' font-size="7.0" fill="#111111" stroke="#111111" stroke-width="0.18">
<text transform="translate(313 536.3) scale(0.85 1)" text-anchor="middle">0</text>
<text transform="translate(341.2 536.3) scale(0.85 1)" text-anchor="middle">50</text>
<text transform="translate(369.4 536.3) scale(0.85 1)" text-anchor="middle">100</text>
<text transform="translate(305.3 448.72) scale(0.85 1)" text-anchor="end">0.4</text>
<text transform="translate(305.3 467.62) scale(0.85 1)" text-anchor="end">0.3</text>
<text transform="translate(305.3 486.52) scale(0.85 1)" text-anchor="end">0.2</text>
<text transform="translate(305.3 505.42) scale(0.85 1)" text-anchor="end">0.1</text>
<text transform="translate(305.3 524.32) scale(0.85 1)" text-anchor="end">0.0</text>
</g>
<text x="336.9" y="429.2" text-anchor="middle" font-family='"Liberation Serif","DejaVu Serif",serif' font-weight="normal" stroke="#111" stroke-width="0.45" font-size="7.5" fill="#111" textLength="27.3" lengthAdjust="spacingAndGlyphs">mAP50</text>
</g>
<g>
<rect x="401.3" y="435.5" width="60.4" height="90.4" fill="#d8d9e2"/>
<path d="M403.6 435.5V525.9M431.8 435.5V525.9M460 435.5V525.9M401.3 444.5H461.7M401.3 460H461.7M401.3 475.5H461.7M401.3 491H461.7M401.3 506.5H461.7M401.3 522H461.7" stroke="#e4e4ec" stroke-width="0.8" fill="none"/>
<polyline points="403.6,522 404.16,522 404.73,522 405.29,521.23 405.86,520.45 406.42,517.45 406.98,517.71 407.55,514.96 408.11,515.64 408.68,513.84 409.24,511.72 409.8,510.28 410.37,507.14 410.93,515.8 411.5,509.48 412.06,505.93 412.62,503.99 413.19,503.76 413.75,503.95 414.32,500.59 414.88,501.93 415.44,500.24 416.01,501.88 416.57,500.14 417.14,499.32 417.7,498.65 418.26,498.17 418.83,497.69 419.39,498.87 419.96,495.59 420.52,494.98 421.08,492.82 421.65,490.23 422.21,489.48 422.78,491.57 423.34,491.63 423.9,486.56 424.47,481.05 425.03,483.5 425.6,486.62 426.16,491.32 426.72,487.61 427.29,483.15 427.85,480.99 428.42,477.12 428.98,478.27 429.54,475.27 430.11,479.02 430.67,482.78 431.24,476.79 431.8,469.48 432.36,486.79 432.93,471.23 433.49,472.55 434.06,478.41 434.62,467.34 435.18,468.22 435.75,471.14 436.31,468.37 436.88,466.63 437.44,462.76 438,457.4 438.57,451.59 439.13,464.37 439.7,455.77 440.26,450.15 440.82,453.6 441.39,459.94 441.95,452.07 442.52,443.33 443.08,450.81 443.64,456.65 444.21,464.04 444.77,457.83 445.34,451.48 445.9,450.26 446.46,450.19 447.03,449.93 447.59,446.08 448.16,447.22 448.72,445.67 449.28,448.27 449.85,451.15 450.41,447.26 450.98,443.89 451.54,440.88 452.1,441.86 452.67,441.66 453.23,442 453.8,441.22 454.36,441.36 454.92,440.51 455.49,440.01 456.05,441.14 456.62,439.52 457.18,442.52 457.74,440.66 458.31,439.6 458.87,443.35 459.44,442.22 460,439.21" fill="none" stroke="#182f88" stroke-width="1.15" stroke-linejoin="round" stroke-linecap="round"/>
<path d="M403.6 522h0M404.16 522h0M404.73 522h0M405.29 521.23h0M405.86 520.45h0M406.42 517.45h0M406.98 517.71h0M407.55 514.96h0M408.11 515.64h0M408.68 513.84h0M409.24 511.72h0M409.8 510.28h0M410.37 507.14h0M410.93 515.8h0M411.5 509.48h0M412.06 505.93h0M412.62 503.99h0M413.19 503.76h0M413.75 503.95h0M414.32 500.59h0M414.88 501.93h0M415.44 500.24h0M416.01 501.88h0M416.57 500.14h0M417.14 499.32h0M417.7 498.65h0M418.26 498.17h0M418.83 497.69h0M419.39 498.87h0M419.96 495.59h0M420.52 494.98h0M421.08 492.82h0M421.65 490.23h0M422.21 489.48h0M422.78 491.57h0M423.34 491.63h0M423.9 486.56h0M424.47 481.05h0M425.03 483.5h0M425.6 486.62h0M426.16 491.32h0M426.72 487.61h0M427.29 483.15h0M427.85 480.99h0M428.42 477.12h0M428.98 478.27h0M429.54 475.27h0M430.11 479.02h0M430.67 482.78h0M431.24 476.79h0M431.8 469.48h0M432.36 486.79h0M432.93 471.23h0M433.49 472.55h0M434.06 478.41h0M434.62 467.34h0M435.18 468.22h0M435.75 471.14h0M436.31 468.37h0M436.88 466.63h0M437.44 462.76h0M438 457.4h0M438.57 451.59h0M439.13 464.37h0M439.7 455.77h0M440.26 450.15h0M440.82 453.6h0M441.39 459.94h0M441.95 452.07h0M442.52 443.33h0M443.08 450.81h0M443.64 456.65h0M444.21 464.04h0M444.77 457.83h0M445.34 451.48h0M445.9 450.26h0M446.46 450.19h0M447.03 449.93h0M447.59 446.08h0M448.16 447.22h0M448.72 445.67h0M449.28 448.27h0M449.85 451.15h0M450.41 447.26h0M450.98 443.89h0M451.54 440.88h0M452.1 441.86h0M452.67 441.66h0M453.23 442h0M453.8 441.22h0M454.36 441.36h0M454.92 440.51h0M455.49 440.01h0M456.05 441.14h0M456.62 439.52h0M457.18 442.52h0M457.74 440.66h0M458.31 439.6h0M458.87 443.35h0M459.44 442.22h0M460 439.21h0" stroke="#182f88" stroke-width="2.7" stroke-linecap="round" fill="none"/>
<g font-family='"Liberation Sans","DejaVu Sans",sans-serif' font-size="7.0" fill="#111111" stroke="#111111" stroke-width="0.18">
<text transform="translate(403.6 536.3) scale(0.85 1)" text-anchor="middle">0</text>
<text transform="translate(431.8 536.3) scale(0.85 1)" text-anchor="middle">50</text>
<text transform="translate(460 536.3) scale(0.85 1)" text-anchor="middle">100</text>
<text transform="translate(395.9 447.02) scale(0.85 1)" text-anchor="end">0.25</text>
<text transform="translate(395.9 462.52) scale(0.85 1)" text-anchor="end">0.20</text>
<text transform="translate(395.9 478.02) scale(0.85 1)" text-anchor="end">0.15</text>
<text transform="translate(395.9 493.52) scale(0.85 1)" text-anchor="end">0.10</text>
<text transform="translate(395.9 509.02) scale(0.85 1)" text-anchor="end">0.05</text>
<text transform="translate(395.9 524.52) scale(0.85 1)" text-anchor="end">0.00</text>
</g>
<text x="427" y="429.2" text-anchor="middle" font-family='"Liberation Serif","DejaVu Serif",serif' font-weight="normal" stroke="#111" stroke-width="0.45" font-size="7.5" fill="#111" textLength="43.5" lengthAdjust="spacingAndGlyphs">mAP50-95</text>
</g>
<path d="M245 107h0M245 124h0M245 229.3h0M245 246h0" stroke="#888" stroke-width="1.2" stroke-linecap="round"/>
</svg></body></html>
